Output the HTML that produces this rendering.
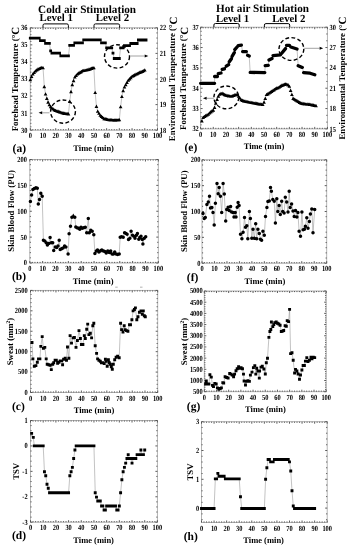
<!DOCTYPE html>
<html><head><meta charset="utf-8"><style>html,body{margin:0;padding:0;background:#fff;overflow:hidden;}svg{display:block;}</style></head>
<body><svg width="354" height="550" viewBox="0 0 354 550" text-rendering="geometricPrecision" font-family="&quot;Liberation Serif&quot;, serif" font-weight="bold"><rect x="30.3" y="27.8" width="127.20" height="102.40" fill="none" stroke="#ababab" stroke-width="0.9"/><text transform="translate(30.30,138.20) scale(0.82,1)" font-size="7.8" text-anchor="middle">0</text><text transform="translate(43.02,138.20) scale(0.82,1)" font-size="7.8" text-anchor="middle">10</text><text transform="translate(55.74,138.20) scale(0.82,1)" font-size="7.8" text-anchor="middle">20</text><text transform="translate(68.46,138.20) scale(0.82,1)" font-size="7.8" text-anchor="middle">30</text><text transform="translate(81.18,138.20) scale(0.82,1)" font-size="7.8" text-anchor="middle">40</text><text transform="translate(93.90,138.20) scale(0.82,1)" font-size="7.8" text-anchor="middle">50</text><text transform="translate(106.62,138.20) scale(0.82,1)" font-size="7.8" text-anchor="middle">60</text><text transform="translate(119.34,138.20) scale(0.82,1)" font-size="7.8" text-anchor="middle">70</text><text transform="translate(132.06,138.20) scale(0.82,1)" font-size="7.8" text-anchor="middle">80</text><text transform="translate(144.78,138.20) scale(0.82,1)" font-size="7.8" text-anchor="middle">90</text><text transform="translate(157.50,138.20) scale(0.82,1)" font-size="7.8" text-anchor="middle">100</text><text transform="translate(27.40,132.60) scale(0.82,1)" font-size="7.8" text-anchor="end">30</text><text transform="translate(27.40,115.53) scale(0.82,1)" font-size="7.8" text-anchor="end">31</text><text transform="translate(27.40,98.47) scale(0.82,1)" font-size="7.8" text-anchor="end">32</text><text transform="translate(27.40,81.40) scale(0.82,1)" font-size="7.8" text-anchor="end">33</text><text transform="translate(27.40,64.33) scale(0.82,1)" font-size="7.8" text-anchor="end">34</text><text transform="translate(27.40,47.27) scale(0.82,1)" font-size="7.8" text-anchor="end">35</text><text transform="translate(27.40,30.20) scale(0.82,1)" font-size="7.8" text-anchor="end">36</text><text transform="translate(159.70,132.80) scale(0.82,1)" font-size="7.8" text-anchor="start">18</text><text transform="translate(159.70,107.20) scale(0.82,1)" font-size="7.8" text-anchor="start">19</text><text transform="translate(159.70,81.60) scale(0.82,1)" font-size="7.8" text-anchor="start">20</text><text transform="translate(159.70,56.00) scale(0.82,1)" font-size="7.8" text-anchor="start">21</text><text transform="translate(159.70,30.40) scale(0.82,1)" font-size="7.8" text-anchor="start">22</text><path d="M30.30 130.2v-2.0M30.30 27.8v2.0M32.84 130.2v-1.1M32.84 27.8v1.1M35.39 130.2v-1.1M35.39 27.8v1.1M37.93 130.2v-1.1M37.93 27.8v1.1M40.48 130.2v-1.1M40.48 27.8v1.1M43.02 130.2v-2.0M43.02 27.8v2.0M45.56 130.2v-1.1M45.56 27.8v1.1M48.11 130.2v-1.1M48.11 27.8v1.1M50.65 130.2v-1.1M50.65 27.8v1.1M53.20 130.2v-1.1M53.20 27.8v1.1M55.74 130.2v-2.0M55.74 27.8v2.0M58.28 130.2v-1.1M58.28 27.8v1.1M60.83 130.2v-1.1M60.83 27.8v1.1M63.37 130.2v-1.1M63.37 27.8v1.1M65.92 130.2v-1.1M65.92 27.8v1.1M68.46 130.2v-2.0M68.46 27.8v2.0M71.00 130.2v-1.1M71.00 27.8v1.1M73.55 130.2v-1.1M73.55 27.8v1.1M76.09 130.2v-1.1M76.09 27.8v1.1M78.64 130.2v-1.1M78.64 27.8v1.1M81.18 130.2v-2.0M81.18 27.8v2.0M83.72 130.2v-1.1M83.72 27.8v1.1M86.27 130.2v-1.1M86.27 27.8v1.1M88.81 130.2v-1.1M88.81 27.8v1.1M91.36 130.2v-1.1M91.36 27.8v1.1M93.90 130.2v-2.0M93.90 27.8v2.0M96.44 130.2v-1.1M96.44 27.8v1.1M98.99 130.2v-1.1M98.99 27.8v1.1M101.53 130.2v-1.1M101.53 27.8v1.1M104.08 130.2v-1.1M104.08 27.8v1.1M106.62 130.2v-2.0M106.62 27.8v2.0M109.16 130.2v-1.1M109.16 27.8v1.1M111.71 130.2v-1.1M111.71 27.8v1.1M114.25 130.2v-1.1M114.25 27.8v1.1M116.80 130.2v-1.1M116.80 27.8v1.1M119.34 130.2v-2.0M119.34 27.8v2.0M121.88 130.2v-1.1M121.88 27.8v1.1M124.43 130.2v-1.1M124.43 27.8v1.1M126.97 130.2v-1.1M126.97 27.8v1.1M129.52 130.2v-1.1M129.52 27.8v1.1M132.06 130.2v-2.0M132.06 27.8v2.0M134.60 130.2v-1.1M134.60 27.8v1.1M137.15 130.2v-1.1M137.15 27.8v1.1M139.69 130.2v-1.1M139.69 27.8v1.1M142.24 130.2v-1.1M142.24 27.8v1.1M144.78 130.2v-2.0M144.78 27.8v2.0M147.32 130.2v-1.1M147.32 27.8v1.1M149.87 130.2v-1.1M149.87 27.8v1.1M152.41 130.2v-1.1M152.41 27.8v1.1M154.96 130.2v-1.1M154.96 27.8v1.1M157.50 130.2v-2.0M157.50 27.8v2.0M30.3 130.20h2.0M30.3 126.79h1.1M30.3 123.37h1.1M30.3 119.96h1.1M30.3 116.55h1.1M30.3 113.13h2.0M30.3 109.72h1.1M30.3 106.31h1.1M30.3 102.89h1.1M30.3 99.48h1.1M30.3 96.07h2.0M30.3 92.65h1.1M30.3 89.24h1.1M30.3 85.83h1.1M30.3 82.41h1.1M30.3 79.00h2.0M30.3 75.59h1.1M30.3 72.17h1.1M30.3 68.76h1.1M30.3 65.35h1.1M30.3 61.93h2.0M30.3 58.52h1.1M30.3 55.11h1.1M30.3 51.69h1.1M30.3 48.28h1.1M30.3 44.87h2.0M30.3 41.45h1.1M30.3 38.04h1.1M30.3 34.63h1.1M30.3 31.21h1.1M30.3 27.80h2.0M157.5 130.20h-2.0M157.5 125.08h-1.1M157.5 119.96h-1.1M157.5 114.84h-1.1M157.5 109.72h-1.1M157.5 104.60h-2.0M157.5 99.48h-1.1M157.5 94.36h-1.1M157.5 89.24h-1.1M157.5 84.12h-1.1M157.5 79.00h-2.0M157.5 73.88h-1.1M157.5 68.76h-1.1M157.5 63.64h-1.1M157.5 58.52h-1.1M157.5 53.40h-2.0M157.5 48.28h-1.1M157.5 43.16h-1.1M157.5 38.04h-1.1M157.5 32.92h-1.1M157.5 27.80h-2.0" stroke="#4a4a4a" stroke-width="0.9" fill="none"/><rect x="29.8" y="159.5" width="128.50" height="103.50" fill="none" stroke="#ababab" stroke-width="0.9"/><text transform="translate(29.80,271.00) scale(0.82,1)" font-size="7.8" text-anchor="middle">0</text><text transform="translate(42.65,271.00) scale(0.82,1)" font-size="7.8" text-anchor="middle">10</text><text transform="translate(55.50,271.00) scale(0.82,1)" font-size="7.8" text-anchor="middle">20</text><text transform="translate(68.35,271.00) scale(0.82,1)" font-size="7.8" text-anchor="middle">30</text><text transform="translate(81.20,271.00) scale(0.82,1)" font-size="7.8" text-anchor="middle">40</text><text transform="translate(94.05,271.00) scale(0.82,1)" font-size="7.8" text-anchor="middle">50</text><text transform="translate(106.90,271.00) scale(0.82,1)" font-size="7.8" text-anchor="middle">60</text><text transform="translate(119.75,271.00) scale(0.82,1)" font-size="7.8" text-anchor="middle">70</text><text transform="translate(132.60,271.00) scale(0.82,1)" font-size="7.8" text-anchor="middle">80</text><text transform="translate(145.45,271.00) scale(0.82,1)" font-size="7.8" text-anchor="middle">90</text><text transform="translate(158.30,271.00) scale(0.82,1)" font-size="7.8" text-anchor="middle">100</text><text transform="translate(26.90,265.40) scale(0.82,1)" font-size="7.8" text-anchor="end">0</text><text transform="translate(26.90,239.53) scale(0.82,1)" font-size="7.8" text-anchor="end">50</text><text transform="translate(26.90,213.65) scale(0.82,1)" font-size="7.8" text-anchor="end">100</text><text transform="translate(26.90,187.78) scale(0.82,1)" font-size="7.8" text-anchor="end">150</text><text transform="translate(26.90,161.90) scale(0.82,1)" font-size="7.8" text-anchor="end">200</text><path d="M29.80 263.0v-2.0M29.80 159.5v2.0M32.37 263.0v-1.1M32.37 159.5v1.1M34.94 263.0v-1.1M34.94 159.5v1.1M37.51 263.0v-1.1M37.51 159.5v1.1M40.08 263.0v-1.1M40.08 159.5v1.1M42.65 263.0v-2.0M42.65 159.5v2.0M45.22 263.0v-1.1M45.22 159.5v1.1M47.79 263.0v-1.1M47.79 159.5v1.1M50.36 263.0v-1.1M50.36 159.5v1.1M52.93 263.0v-1.1M52.93 159.5v1.1M55.50 263.0v-2.0M55.50 159.5v2.0M58.07 263.0v-1.1M58.07 159.5v1.1M60.64 263.0v-1.1M60.64 159.5v1.1M63.21 263.0v-1.1M63.21 159.5v1.1M65.78 263.0v-1.1M65.78 159.5v1.1M68.35 263.0v-2.0M68.35 159.5v2.0M70.92 263.0v-1.1M70.92 159.5v1.1M73.49 263.0v-1.1M73.49 159.5v1.1M76.06 263.0v-1.1M76.06 159.5v1.1M78.63 263.0v-1.1M78.63 159.5v1.1M81.20 263.0v-2.0M81.20 159.5v2.0M83.77 263.0v-1.1M83.77 159.5v1.1M86.34 263.0v-1.1M86.34 159.5v1.1M88.91 263.0v-1.1M88.91 159.5v1.1M91.48 263.0v-1.1M91.48 159.5v1.1M94.05 263.0v-2.0M94.05 159.5v2.0M96.62 263.0v-1.1M96.62 159.5v1.1M99.19 263.0v-1.1M99.19 159.5v1.1M101.76 263.0v-1.1M101.76 159.5v1.1M104.33 263.0v-1.1M104.33 159.5v1.1M106.90 263.0v-2.0M106.90 159.5v2.0M109.47 263.0v-1.1M109.47 159.5v1.1M112.04 263.0v-1.1M112.04 159.5v1.1M114.61 263.0v-1.1M114.61 159.5v1.1M117.18 263.0v-1.1M117.18 159.5v1.1M119.75 263.0v-2.0M119.75 159.5v2.0M122.32 263.0v-1.1M122.32 159.5v1.1M124.89 263.0v-1.1M124.89 159.5v1.1M127.46 263.0v-1.1M127.46 159.5v1.1M130.03 263.0v-1.1M130.03 159.5v1.1M132.60 263.0v-2.0M132.60 159.5v2.0M135.17 263.0v-1.1M135.17 159.5v1.1M137.74 263.0v-1.1M137.74 159.5v1.1M140.31 263.0v-1.1M140.31 159.5v1.1M142.88 263.0v-1.1M142.88 159.5v1.1M145.45 263.0v-2.0M145.45 159.5v2.0M148.02 263.0v-1.1M148.02 159.5v1.1M150.59 263.0v-1.1M150.59 159.5v1.1M153.16 263.0v-1.1M153.16 159.5v1.1M155.73 263.0v-1.1M155.73 159.5v1.1M158.30 263.0v-2.0M158.30 159.5v2.0M29.8 263.00h2.0M158.3 263.00h-2.0M29.8 257.82h1.1M158.3 257.82h-1.1M29.8 252.65h1.1M158.3 252.65h-1.1M29.8 247.47h1.1M158.3 247.47h-1.1M29.8 242.30h1.1M158.3 242.30h-1.1M29.8 237.12h2.0M158.3 237.12h-2.0M29.8 231.95h1.1M158.3 231.95h-1.1M29.8 226.78h1.1M158.3 226.78h-1.1M29.8 221.60h1.1M158.3 221.60h-1.1M29.8 216.43h1.1M158.3 216.43h-1.1M29.8 211.25h2.0M158.3 211.25h-2.0M29.8 206.07h1.1M158.3 206.07h-1.1M29.8 200.90h1.1M158.3 200.90h-1.1M29.8 195.72h1.1M158.3 195.72h-1.1M29.8 190.55h1.1M158.3 190.55h-1.1M29.8 185.38h2.0M158.3 185.38h-2.0M29.8 180.20h1.1M158.3 180.20h-1.1M29.8 175.03h1.1M158.3 175.03h-1.1M29.8 169.85h1.1M158.3 169.85h-1.1M29.8 164.68h1.1M158.3 164.68h-1.1M29.8 159.50h2.0M158.3 159.50h-2.0" stroke="#4a4a4a" stroke-width="0.9" fill="none"/><rect x="30.5" y="290.4" width="127.20" height="102.10" fill="none" stroke="#ababab" stroke-width="0.9"/><text transform="translate(30.50,400.50) scale(0.82,1)" font-size="7.8" text-anchor="middle">0</text><text transform="translate(43.22,400.50) scale(0.82,1)" font-size="7.8" text-anchor="middle">10</text><text transform="translate(55.94,400.50) scale(0.82,1)" font-size="7.8" text-anchor="middle">20</text><text transform="translate(68.66,400.50) scale(0.82,1)" font-size="7.8" text-anchor="middle">30</text><text transform="translate(81.38,400.50) scale(0.82,1)" font-size="7.8" text-anchor="middle">40</text><text transform="translate(94.10,400.50) scale(0.82,1)" font-size="7.8" text-anchor="middle">50</text><text transform="translate(106.82,400.50) scale(0.82,1)" font-size="7.8" text-anchor="middle">60</text><text transform="translate(119.54,400.50) scale(0.82,1)" font-size="7.8" text-anchor="middle">70</text><text transform="translate(132.26,400.50) scale(0.82,1)" font-size="7.8" text-anchor="middle">80</text><text transform="translate(144.98,400.50) scale(0.82,1)" font-size="7.8" text-anchor="middle">90</text><text transform="translate(157.70,400.50) scale(0.82,1)" font-size="7.8" text-anchor="middle">100</text><text transform="translate(27.60,394.90) scale(0.82,1)" font-size="7.8" text-anchor="end">0</text><text transform="translate(27.60,374.48) scale(0.82,1)" font-size="7.8" text-anchor="end">500</text><text transform="translate(27.60,354.06) scale(0.82,1)" font-size="7.8" text-anchor="end">1000</text><text transform="translate(27.60,333.64) scale(0.82,1)" font-size="7.8" text-anchor="end">1500</text><text transform="translate(27.60,313.22) scale(0.82,1)" font-size="7.8" text-anchor="end">2000</text><text transform="translate(27.60,292.80) scale(0.82,1)" font-size="7.8" text-anchor="end">2500</text><path d="M30.50 392.5v-2.0M30.50 290.4v2.0M33.04 392.5v-1.1M33.04 290.4v1.1M35.59 392.5v-1.1M35.59 290.4v1.1M38.13 392.5v-1.1M38.13 290.4v1.1M40.68 392.5v-1.1M40.68 290.4v1.1M43.22 392.5v-2.0M43.22 290.4v2.0M45.76 392.5v-1.1M45.76 290.4v1.1M48.31 392.5v-1.1M48.31 290.4v1.1M50.85 392.5v-1.1M50.85 290.4v1.1M53.40 392.5v-1.1M53.40 290.4v1.1M55.94 392.5v-2.0M55.94 290.4v2.0M58.48 392.5v-1.1M58.48 290.4v1.1M61.03 392.5v-1.1M61.03 290.4v1.1M63.57 392.5v-1.1M63.57 290.4v1.1M66.12 392.5v-1.1M66.12 290.4v1.1M68.66 392.5v-2.0M68.66 290.4v2.0M71.20 392.5v-1.1M71.20 290.4v1.1M73.75 392.5v-1.1M73.75 290.4v1.1M76.29 392.5v-1.1M76.29 290.4v1.1M78.84 392.5v-1.1M78.84 290.4v1.1M81.38 392.5v-2.0M81.38 290.4v2.0M83.92 392.5v-1.1M83.92 290.4v1.1M86.47 392.5v-1.1M86.47 290.4v1.1M89.01 392.5v-1.1M89.01 290.4v1.1M91.56 392.5v-1.1M91.56 290.4v1.1M94.10 392.5v-2.0M94.10 290.4v2.0M96.64 392.5v-1.1M96.64 290.4v1.1M99.19 392.5v-1.1M99.19 290.4v1.1M101.73 392.5v-1.1M101.73 290.4v1.1M104.28 392.5v-1.1M104.28 290.4v1.1M106.82 392.5v-2.0M106.82 290.4v2.0M109.36 392.5v-1.1M109.36 290.4v1.1M111.91 392.5v-1.1M111.91 290.4v1.1M114.45 392.5v-1.1M114.45 290.4v1.1M117.00 392.5v-1.1M117.00 290.4v1.1M119.54 392.5v-2.0M119.54 290.4v2.0M122.08 392.5v-1.1M122.08 290.4v1.1M124.63 392.5v-1.1M124.63 290.4v1.1M127.17 392.5v-1.1M127.17 290.4v1.1M129.72 392.5v-1.1M129.72 290.4v1.1M132.26 392.5v-2.0M132.26 290.4v2.0M134.80 392.5v-1.1M134.80 290.4v1.1M137.35 392.5v-1.1M137.35 290.4v1.1M139.89 392.5v-1.1M139.89 290.4v1.1M142.44 392.5v-1.1M142.44 290.4v1.1M144.98 392.5v-2.0M144.98 290.4v2.0M147.52 392.5v-1.1M147.52 290.4v1.1M150.07 392.5v-1.1M150.07 290.4v1.1M152.61 392.5v-1.1M152.61 290.4v1.1M155.16 392.5v-1.1M155.16 290.4v1.1M157.70 392.5v-2.0M157.70 290.4v2.0M30.5 392.50h2.0M157.7 392.50h-2.0M30.5 388.42h1.1M157.7 388.42h-1.1M30.5 384.33h1.1M157.7 384.33h-1.1M30.5 380.25h1.1M157.7 380.25h-1.1M30.5 376.16h1.1M157.7 376.16h-1.1M30.5 372.08h2.0M157.7 372.08h-2.0M30.5 368.00h1.1M157.7 368.00h-1.1M30.5 363.91h1.1M157.7 363.91h-1.1M30.5 359.83h1.1M157.7 359.83h-1.1M30.5 355.74h1.1M157.7 355.74h-1.1M30.5 351.66h2.0M157.7 351.66h-2.0M30.5 347.58h1.1M157.7 347.58h-1.1M30.5 343.49h1.1M157.7 343.49h-1.1M30.5 339.41h1.1M157.7 339.41h-1.1M30.5 335.32h1.1M157.7 335.32h-1.1M30.5 331.24h2.0M157.7 331.24h-2.0M30.5 327.16h1.1M157.7 327.16h-1.1M30.5 323.07h1.1M157.7 323.07h-1.1M30.5 318.99h1.1M157.7 318.99h-1.1M30.5 314.90h1.1M157.7 314.90h-1.1M30.5 310.82h2.0M157.7 310.82h-2.0M30.5 306.74h1.1M157.7 306.74h-1.1M30.5 302.65h1.1M157.7 302.65h-1.1M30.5 298.57h1.1M157.7 298.57h-1.1M30.5 294.48h1.1M157.7 294.48h-1.1M30.5 290.40h2.0M157.7 290.40h-2.0" stroke="#4a4a4a" stroke-width="0.9" fill="none"/><rect x="30.5" y="420.5" width="126.90" height="101.70" fill="none" stroke="#ababab" stroke-width="0.9"/><text transform="translate(30.50,530.20) scale(0.82,1)" font-size="7.8" text-anchor="middle">0</text><text transform="translate(43.19,530.20) scale(0.82,1)" font-size="7.8" text-anchor="middle">10</text><text transform="translate(55.88,530.20) scale(0.82,1)" font-size="7.8" text-anchor="middle">20</text><text transform="translate(68.57,530.20) scale(0.82,1)" font-size="7.8" text-anchor="middle">30</text><text transform="translate(81.26,530.20) scale(0.82,1)" font-size="7.8" text-anchor="middle">40</text><text transform="translate(93.95,530.20) scale(0.82,1)" font-size="7.8" text-anchor="middle">50</text><text transform="translate(106.64,530.20) scale(0.82,1)" font-size="7.8" text-anchor="middle">60</text><text transform="translate(119.33,530.20) scale(0.82,1)" font-size="7.8" text-anchor="middle">70</text><text transform="translate(132.02,530.20) scale(0.82,1)" font-size="7.8" text-anchor="middle">80</text><text transform="translate(144.71,530.20) scale(0.82,1)" font-size="7.8" text-anchor="middle">90</text><text transform="translate(157.40,530.20) scale(0.82,1)" font-size="7.8" text-anchor="middle">100</text><text transform="translate(27.60,524.60) scale(0.82,1)" font-size="7.8" text-anchor="end">-3</text><text transform="translate(27.60,499.18) scale(0.82,1)" font-size="7.8" text-anchor="end">-2</text><text transform="translate(27.60,473.75) scale(0.82,1)" font-size="7.8" text-anchor="end">-1</text><text transform="translate(27.60,448.32) scale(0.82,1)" font-size="7.8" text-anchor="end">0</text><text transform="translate(27.60,422.90) scale(0.82,1)" font-size="7.8" text-anchor="end">1</text><path d="M30.50 522.2v-2.0M30.50 420.5v2.0M33.04 522.2v-1.1M33.04 420.5v1.1M35.58 522.2v-1.1M35.58 420.5v1.1M38.11 522.2v-1.1M38.11 420.5v1.1M40.65 522.2v-1.1M40.65 420.5v1.1M43.19 522.2v-2.0M43.19 420.5v2.0M45.73 522.2v-1.1M45.73 420.5v1.1M48.27 522.2v-1.1M48.27 420.5v1.1M50.80 522.2v-1.1M50.80 420.5v1.1M53.34 522.2v-1.1M53.34 420.5v1.1M55.88 522.2v-2.0M55.88 420.5v2.0M58.42 522.2v-1.1M58.42 420.5v1.1M60.96 522.2v-1.1M60.96 420.5v1.1M63.49 522.2v-1.1M63.49 420.5v1.1M66.03 522.2v-1.1M66.03 420.5v1.1M68.57 522.2v-2.0M68.57 420.5v2.0M71.11 522.2v-1.1M71.11 420.5v1.1M73.65 522.2v-1.1M73.65 420.5v1.1M76.18 522.2v-1.1M76.18 420.5v1.1M78.72 522.2v-1.1M78.72 420.5v1.1M81.26 522.2v-2.0M81.26 420.5v2.0M83.80 522.2v-1.1M83.80 420.5v1.1M86.34 522.2v-1.1M86.34 420.5v1.1M88.87 522.2v-1.1M88.87 420.5v1.1M91.41 522.2v-1.1M91.41 420.5v1.1M93.95 522.2v-2.0M93.95 420.5v2.0M96.49 522.2v-1.1M96.49 420.5v1.1M99.03 522.2v-1.1M99.03 420.5v1.1M101.56 522.2v-1.1M101.56 420.5v1.1M104.10 522.2v-1.1M104.10 420.5v1.1M106.64 522.2v-2.0M106.64 420.5v2.0M109.18 522.2v-1.1M109.18 420.5v1.1M111.72 522.2v-1.1M111.72 420.5v1.1M114.25 522.2v-1.1M114.25 420.5v1.1M116.79 522.2v-1.1M116.79 420.5v1.1M119.33 522.2v-2.0M119.33 420.5v2.0M121.87 522.2v-1.1M121.87 420.5v1.1M124.41 522.2v-1.1M124.41 420.5v1.1M126.94 522.2v-1.1M126.94 420.5v1.1M129.48 522.2v-1.1M129.48 420.5v1.1M132.02 522.2v-2.0M132.02 420.5v2.0M134.56 522.2v-1.1M134.56 420.5v1.1M137.10 522.2v-1.1M137.10 420.5v1.1M139.63 522.2v-1.1M139.63 420.5v1.1M142.17 522.2v-1.1M142.17 420.5v1.1M144.71 522.2v-2.0M144.71 420.5v2.0M147.25 522.2v-1.1M147.25 420.5v1.1M149.79 522.2v-1.1M149.79 420.5v1.1M152.32 522.2v-1.1M152.32 420.5v1.1M154.86 522.2v-1.1M154.86 420.5v1.1M157.40 522.2v-2.0M157.40 420.5v2.0M30.5 522.20h2.0M157.4 522.20h-2.0M30.5 517.12h1.1M157.4 517.12h-1.1M30.5 512.03h1.1M157.4 512.03h-1.1M30.5 506.95h1.1M157.4 506.95h-1.1M30.5 501.86h1.1M157.4 501.86h-1.1M30.5 496.78h2.0M157.4 496.78h-2.0M30.5 491.69h1.1M157.4 491.69h-1.1M30.5 486.61h1.1M157.4 486.61h-1.1M30.5 481.52h1.1M157.4 481.52h-1.1M30.5 476.44h1.1M157.4 476.44h-1.1M30.5 471.35h2.0M157.4 471.35h-2.0M30.5 466.26h1.1M157.4 466.26h-1.1M30.5 461.18h1.1M157.4 461.18h-1.1M30.5 456.10h1.1M157.4 456.10h-1.1M30.5 451.01h1.1M157.4 451.01h-1.1M30.5 445.93h2.0M157.4 445.93h-2.0M30.5 440.84h1.1M157.4 440.84h-1.1M30.5 435.75h1.1M157.4 435.75h-1.1M30.5 430.67h1.1M157.4 430.67h-1.1M30.5 425.59h1.1M157.4 425.59h-1.1M30.5 420.50h2.0M157.4 420.50h-2.0" stroke="#4a4a4a" stroke-width="0.9" fill="none"/><rect x="200.6" y="27.2" width="126.80" height="101.70" fill="none" stroke="#ababab" stroke-width="0.9"/><text transform="translate(200.60,136.90) scale(0.82,1)" font-size="7.8" text-anchor="middle">0</text><text transform="translate(213.28,136.90) scale(0.82,1)" font-size="7.8" text-anchor="middle">10</text><text transform="translate(225.96,136.90) scale(0.82,1)" font-size="7.8" text-anchor="middle">20</text><text transform="translate(238.64,136.90) scale(0.82,1)" font-size="7.8" text-anchor="middle">30</text><text transform="translate(251.32,136.90) scale(0.82,1)" font-size="7.8" text-anchor="middle">40</text><text transform="translate(264.00,136.90) scale(0.82,1)" font-size="7.8" text-anchor="middle">50</text><text transform="translate(276.68,136.90) scale(0.82,1)" font-size="7.8" text-anchor="middle">60</text><text transform="translate(289.36,136.90) scale(0.82,1)" font-size="7.8" text-anchor="middle">70</text><text transform="translate(302.04,136.90) scale(0.82,1)" font-size="7.8" text-anchor="middle">80</text><text transform="translate(314.72,136.90) scale(0.82,1)" font-size="7.8" text-anchor="middle">90</text><text transform="translate(327.40,136.90) scale(0.82,1)" font-size="7.8" text-anchor="middle">100</text><text transform="translate(198.80,131.30) scale(0.82,1)" font-size="7.8" text-anchor="end">32</text><text transform="translate(198.80,110.96) scale(0.82,1)" font-size="7.8" text-anchor="end">33</text><text transform="translate(198.80,90.62) scale(0.82,1)" font-size="7.8" text-anchor="end">34</text><text transform="translate(198.80,70.28) scale(0.82,1)" font-size="7.8" text-anchor="end">35</text><text transform="translate(198.80,49.94) scale(0.82,1)" font-size="7.8" text-anchor="end">36</text><text transform="translate(198.80,29.60) scale(0.82,1)" font-size="7.8" text-anchor="end">37</text><text transform="translate(329.60,131.50) scale(0.82,1)" font-size="7.8" text-anchor="start">15</text><text transform="translate(329.60,111.16) scale(0.82,1)" font-size="7.8" text-anchor="start">18</text><text transform="translate(329.60,90.82) scale(0.82,1)" font-size="7.8" text-anchor="start">21</text><text transform="translate(329.60,70.48) scale(0.82,1)" font-size="7.8" text-anchor="start">24</text><text transform="translate(329.60,50.14) scale(0.82,1)" font-size="7.8" text-anchor="start">27</text><text transform="translate(329.60,29.80) scale(0.82,1)" font-size="7.8" text-anchor="start">30</text><path d="M200.60 128.9v-2.0M200.60 27.2v2.0M203.14 128.9v-1.1M203.14 27.2v1.1M205.67 128.9v-1.1M205.67 27.2v1.1M208.21 128.9v-1.1M208.21 27.2v1.1M210.74 128.9v-1.1M210.74 27.2v1.1M213.28 128.9v-2.0M213.28 27.2v2.0M215.82 128.9v-1.1M215.82 27.2v1.1M218.35 128.9v-1.1M218.35 27.2v1.1M220.89 128.9v-1.1M220.89 27.2v1.1M223.42 128.9v-1.1M223.42 27.2v1.1M225.96 128.9v-2.0M225.96 27.2v2.0M228.50 128.9v-1.1M228.50 27.2v1.1M231.03 128.9v-1.1M231.03 27.2v1.1M233.57 128.9v-1.1M233.57 27.2v1.1M236.10 128.9v-1.1M236.10 27.2v1.1M238.64 128.9v-2.0M238.64 27.2v2.0M241.18 128.9v-1.1M241.18 27.2v1.1M243.71 128.9v-1.1M243.71 27.2v1.1M246.25 128.9v-1.1M246.25 27.2v1.1M248.78 128.9v-1.1M248.78 27.2v1.1M251.32 128.9v-2.0M251.32 27.2v2.0M253.86 128.9v-1.1M253.86 27.2v1.1M256.39 128.9v-1.1M256.39 27.2v1.1M258.93 128.9v-1.1M258.93 27.2v1.1M261.46 128.9v-1.1M261.46 27.2v1.1M264.00 128.9v-2.0M264.00 27.2v2.0M266.54 128.9v-1.1M266.54 27.2v1.1M269.07 128.9v-1.1M269.07 27.2v1.1M271.61 128.9v-1.1M271.61 27.2v1.1M274.14 128.9v-1.1M274.14 27.2v1.1M276.68 128.9v-2.0M276.68 27.2v2.0M279.22 128.9v-1.1M279.22 27.2v1.1M281.75 128.9v-1.1M281.75 27.2v1.1M284.29 128.9v-1.1M284.29 27.2v1.1M286.82 128.9v-1.1M286.82 27.2v1.1M289.36 128.9v-2.0M289.36 27.2v2.0M291.90 128.9v-1.1M291.90 27.2v1.1M294.43 128.9v-1.1M294.43 27.2v1.1M296.97 128.9v-1.1M296.97 27.2v1.1M299.50 128.9v-1.1M299.50 27.2v1.1M302.04 128.9v-2.0M302.04 27.2v2.0M304.58 128.9v-1.1M304.58 27.2v1.1M307.11 128.9v-1.1M307.11 27.2v1.1M309.65 128.9v-1.1M309.65 27.2v1.1M312.18 128.9v-1.1M312.18 27.2v1.1M314.72 128.9v-2.0M314.72 27.2v2.0M317.26 128.9v-1.1M317.26 27.2v1.1M319.79 128.9v-1.1M319.79 27.2v1.1M322.33 128.9v-1.1M322.33 27.2v1.1M324.86 128.9v-1.1M324.86 27.2v1.1M327.40 128.9v-2.0M327.40 27.2v2.0M200.6 128.90h2.0M200.6 124.83h1.1M200.6 120.76h1.1M200.6 116.70h1.1M200.6 112.63h1.1M200.6 108.56h2.0M200.6 104.49h1.1M200.6 100.42h1.1M200.6 96.36h1.1M200.6 92.29h1.1M200.6 88.22h2.0M200.6 84.15h1.1M200.6 80.08h1.1M200.6 76.02h1.1M200.6 71.95h1.1M200.6 67.88h2.0M200.6 63.81h1.1M200.6 59.74h1.1M200.6 55.68h1.1M200.6 51.61h1.1M200.6 47.54h2.0M200.6 43.47h1.1M200.6 39.40h1.1M200.6 35.34h1.1M200.6 31.27h1.1M200.6 27.20h2.0M327.4 128.90h-2.0M327.4 122.12h-1.1M327.4 115.34h-1.1M327.4 108.56h-2.0M327.4 101.78h-1.1M327.4 95.00h-1.1M327.4 88.22h-2.0M327.4 81.44h-1.1M327.4 74.66h-1.1M327.4 67.88h-2.0M327.4 61.10h-1.1M327.4 54.32h-1.1M327.4 47.54h-2.0M327.4 40.76h-1.1M327.4 33.98h-1.1M327.4 27.20h-2.0" stroke="#4a4a4a" stroke-width="0.9" fill="none"/><rect x="202.0" y="159.8" width="124.70" height="103.40" fill="none" stroke="#ababab" stroke-width="0.9"/><text transform="translate(202.00,271.20) scale(0.82,1)" font-size="7.8" text-anchor="middle">0</text><text transform="translate(214.47,271.20) scale(0.82,1)" font-size="7.8" text-anchor="middle">10</text><text transform="translate(226.94,271.20) scale(0.82,1)" font-size="7.8" text-anchor="middle">20</text><text transform="translate(239.41,271.20) scale(0.82,1)" font-size="7.8" text-anchor="middle">30</text><text transform="translate(251.88,271.20) scale(0.82,1)" font-size="7.8" text-anchor="middle">40</text><text transform="translate(264.35,271.20) scale(0.82,1)" font-size="7.8" text-anchor="middle">50</text><text transform="translate(276.82,271.20) scale(0.82,1)" font-size="7.8" text-anchor="middle">60</text><text transform="translate(289.29,271.20) scale(0.82,1)" font-size="7.8" text-anchor="middle">70</text><text transform="translate(301.76,271.20) scale(0.82,1)" font-size="7.8" text-anchor="middle">80</text><text transform="translate(314.23,271.20) scale(0.82,1)" font-size="7.8" text-anchor="middle">90</text><text transform="translate(326.70,271.20) scale(0.82,1)" font-size="7.8" text-anchor="middle">100</text><text transform="translate(200.40,265.60) scale(0.82,1)" font-size="7.8" text-anchor="end">0</text><text transform="translate(200.40,239.75) scale(0.82,1)" font-size="7.8" text-anchor="end">50</text><text transform="translate(200.40,213.90) scale(0.82,1)" font-size="7.8" text-anchor="end">100</text><text transform="translate(200.40,188.05) scale(0.82,1)" font-size="7.8" text-anchor="end">150</text><text transform="translate(200.40,162.20) scale(0.82,1)" font-size="7.8" text-anchor="end">200</text><path d="M202.00 263.2v-2.0M202.00 159.8v2.0M204.49 263.2v-1.1M204.49 159.8v1.1M206.99 263.2v-1.1M206.99 159.8v1.1M209.48 263.2v-1.1M209.48 159.8v1.1M211.98 263.2v-1.1M211.98 159.8v1.1M214.47 263.2v-2.0M214.47 159.8v2.0M216.96 263.2v-1.1M216.96 159.8v1.1M219.46 263.2v-1.1M219.46 159.8v1.1M221.95 263.2v-1.1M221.95 159.8v1.1M224.45 263.2v-1.1M224.45 159.8v1.1M226.94 263.2v-2.0M226.94 159.8v2.0M229.43 263.2v-1.1M229.43 159.8v1.1M231.93 263.2v-1.1M231.93 159.8v1.1M234.42 263.2v-1.1M234.42 159.8v1.1M236.92 263.2v-1.1M236.92 159.8v1.1M239.41 263.2v-2.0M239.41 159.8v2.0M241.90 263.2v-1.1M241.90 159.8v1.1M244.40 263.2v-1.1M244.40 159.8v1.1M246.89 263.2v-1.1M246.89 159.8v1.1M249.39 263.2v-1.1M249.39 159.8v1.1M251.88 263.2v-2.0M251.88 159.8v2.0M254.37 263.2v-1.1M254.37 159.8v1.1M256.87 263.2v-1.1M256.87 159.8v1.1M259.36 263.2v-1.1M259.36 159.8v1.1M261.86 263.2v-1.1M261.86 159.8v1.1M264.35 263.2v-2.0M264.35 159.8v2.0M266.84 263.2v-1.1M266.84 159.8v1.1M269.34 263.2v-1.1M269.34 159.8v1.1M271.83 263.2v-1.1M271.83 159.8v1.1M274.33 263.2v-1.1M274.33 159.8v1.1M276.82 263.2v-2.0M276.82 159.8v2.0M279.31 263.2v-1.1M279.31 159.8v1.1M281.81 263.2v-1.1M281.81 159.8v1.1M284.30 263.2v-1.1M284.30 159.8v1.1M286.80 263.2v-1.1M286.80 159.8v1.1M289.29 263.2v-2.0M289.29 159.8v2.0M291.78 263.2v-1.1M291.78 159.8v1.1M294.28 263.2v-1.1M294.28 159.8v1.1M296.77 263.2v-1.1M296.77 159.8v1.1M299.27 263.2v-1.1M299.27 159.8v1.1M301.76 263.2v-2.0M301.76 159.8v2.0M304.25 263.2v-1.1M304.25 159.8v1.1M306.75 263.2v-1.1M306.75 159.8v1.1M309.24 263.2v-1.1M309.24 159.8v1.1M311.74 263.2v-1.1M311.74 159.8v1.1M314.23 263.2v-2.0M314.23 159.8v2.0M316.72 263.2v-1.1M316.72 159.8v1.1M319.22 263.2v-1.1M319.22 159.8v1.1M321.71 263.2v-1.1M321.71 159.8v1.1M324.21 263.2v-1.1M324.21 159.8v1.1M326.70 263.2v-2.0M326.70 159.8v2.0M202.0 263.20h2.0M326.7 263.20h-2.0M202.0 258.03h1.1M326.7 258.03h-1.1M202.0 252.86h1.1M326.7 252.86h-1.1M202.0 247.69h1.1M326.7 247.69h-1.1M202.0 242.52h1.1M326.7 242.52h-1.1M202.0 237.35h2.0M326.7 237.35h-2.0M202.0 232.18h1.1M326.7 232.18h-1.1M202.0 227.01h1.1M326.7 227.01h-1.1M202.0 221.84h1.1M326.7 221.84h-1.1M202.0 216.67h1.1M326.7 216.67h-1.1M202.0 211.50h2.0M326.7 211.50h-2.0M202.0 206.33h1.1M326.7 206.33h-1.1M202.0 201.16h1.1M326.7 201.16h-1.1M202.0 195.99h1.1M326.7 195.99h-1.1M202.0 190.82h1.1M326.7 190.82h-1.1M202.0 185.65h2.0M326.7 185.65h-2.0M202.0 180.48h1.1M326.7 180.48h-1.1M202.0 175.31h1.1M326.7 175.31h-1.1M202.0 170.14h1.1M326.7 170.14h-1.1M202.0 164.97h1.1M326.7 164.97h-1.1M202.0 159.80h2.0M326.7 159.80h-2.0" stroke="#4a4a4a" stroke-width="0.9" fill="none"/><rect x="204.3" y="291.0" width="121.90" height="100.70" fill="none" stroke="#ababab" stroke-width="0.9"/><text transform="translate(204.30,399.70) scale(0.82,1)" font-size="7.8" text-anchor="middle">0</text><text transform="translate(216.49,399.70) scale(0.82,1)" font-size="7.8" text-anchor="middle">10</text><text transform="translate(228.68,399.70) scale(0.82,1)" font-size="7.8" text-anchor="middle">20</text><text transform="translate(240.87,399.70) scale(0.82,1)" font-size="7.8" text-anchor="middle">30</text><text transform="translate(253.06,399.70) scale(0.82,1)" font-size="7.8" text-anchor="middle">40</text><text transform="translate(265.25,399.70) scale(0.82,1)" font-size="7.8" text-anchor="middle">50</text><text transform="translate(277.44,399.70) scale(0.82,1)" font-size="7.8" text-anchor="middle">60</text><text transform="translate(289.63,399.70) scale(0.82,1)" font-size="7.8" text-anchor="middle">70</text><text transform="translate(301.82,399.70) scale(0.82,1)" font-size="7.8" text-anchor="middle">80</text><text transform="translate(314.01,399.70) scale(0.82,1)" font-size="7.8" text-anchor="middle">90</text><text transform="translate(326.20,399.70) scale(0.82,1)" font-size="7.8" text-anchor="middle">100</text><text transform="translate(202.70,394.10) scale(0.82,1)" font-size="7.8" text-anchor="end">500</text><text transform="translate(202.70,382.91) scale(0.82,1)" font-size="7.8" text-anchor="end">1000</text><text transform="translate(202.70,371.72) scale(0.82,1)" font-size="7.8" text-anchor="end">1500</text><text transform="translate(202.70,360.53) scale(0.82,1)" font-size="7.8" text-anchor="end">2000</text><text transform="translate(202.70,349.34) scale(0.82,1)" font-size="7.8" text-anchor="end">2500</text><text transform="translate(202.70,338.16) scale(0.82,1)" font-size="7.8" text-anchor="end">3000</text><text transform="translate(202.70,326.97) scale(0.82,1)" font-size="7.8" text-anchor="end">3500</text><text transform="translate(202.70,315.78) scale(0.82,1)" font-size="7.8" text-anchor="end">4000</text><text transform="translate(202.70,304.59) scale(0.82,1)" font-size="7.8" text-anchor="end">4500</text><text transform="translate(202.70,293.40) scale(0.82,1)" font-size="7.8" text-anchor="end">5000</text><path d="M204.30 391.7v-2.0M204.30 291.0v2.0M206.74 391.7v-1.1M206.74 291.0v1.1M209.18 391.7v-1.1M209.18 291.0v1.1M211.61 391.7v-1.1M211.61 291.0v1.1M214.05 391.7v-1.1M214.05 291.0v1.1M216.49 391.7v-2.0M216.49 291.0v2.0M218.93 391.7v-1.1M218.93 291.0v1.1M221.37 391.7v-1.1M221.37 291.0v1.1M223.80 391.7v-1.1M223.80 291.0v1.1M226.24 391.7v-1.1M226.24 291.0v1.1M228.68 391.7v-2.0M228.68 291.0v2.0M231.12 391.7v-1.1M231.12 291.0v1.1M233.56 391.7v-1.1M233.56 291.0v1.1M235.99 391.7v-1.1M235.99 291.0v1.1M238.43 391.7v-1.1M238.43 291.0v1.1M240.87 391.7v-2.0M240.87 291.0v2.0M243.31 391.7v-1.1M243.31 291.0v1.1M245.75 391.7v-1.1M245.75 291.0v1.1M248.18 391.7v-1.1M248.18 291.0v1.1M250.62 391.7v-1.1M250.62 291.0v1.1M253.06 391.7v-2.0M253.06 291.0v2.0M255.50 391.7v-1.1M255.50 291.0v1.1M257.94 391.7v-1.1M257.94 291.0v1.1M260.37 391.7v-1.1M260.37 291.0v1.1M262.81 391.7v-1.1M262.81 291.0v1.1M265.25 391.7v-2.0M265.25 291.0v2.0M267.69 391.7v-1.1M267.69 291.0v1.1M270.13 391.7v-1.1M270.13 291.0v1.1M272.56 391.7v-1.1M272.56 291.0v1.1M275.00 391.7v-1.1M275.00 291.0v1.1M277.44 391.7v-2.0M277.44 291.0v2.0M279.88 391.7v-1.1M279.88 291.0v1.1M282.32 391.7v-1.1M282.32 291.0v1.1M284.75 391.7v-1.1M284.75 291.0v1.1M287.19 391.7v-1.1M287.19 291.0v1.1M289.63 391.7v-2.0M289.63 291.0v2.0M292.07 391.7v-1.1M292.07 291.0v1.1M294.51 391.7v-1.1M294.51 291.0v1.1M296.94 391.7v-1.1M296.94 291.0v1.1M299.38 391.7v-1.1M299.38 291.0v1.1M301.82 391.7v-2.0M301.82 291.0v2.0M304.26 391.7v-1.1M304.26 291.0v1.1M306.70 391.7v-1.1M306.70 291.0v1.1M309.13 391.7v-1.1M309.13 291.0v1.1M311.57 391.7v-1.1M311.57 291.0v1.1M314.01 391.7v-2.0M314.01 291.0v2.0M316.45 391.7v-1.1M316.45 291.0v1.1M318.89 391.7v-1.1M318.89 291.0v1.1M321.32 391.7v-1.1M321.32 291.0v1.1M323.76 391.7v-1.1M323.76 291.0v1.1M326.20 391.7v-2.0M326.20 291.0v2.0M204.3 391.70h2.0M326.2 391.70h-2.0M204.3 389.46h1.1M326.2 389.46h-1.1M204.3 387.22h1.1M326.2 387.22h-1.1M204.3 384.99h1.1M326.2 384.99h-1.1M204.3 382.75h1.1M326.2 382.75h-1.1M204.3 380.51h2.0M326.2 380.51h-2.0M204.3 378.27h1.1M326.2 378.27h-1.1M204.3 376.04h1.1M326.2 376.04h-1.1M204.3 373.80h1.1M326.2 373.80h-1.1M204.3 371.56h1.1M326.2 371.56h-1.1M204.3 369.32h2.0M326.2 369.32h-2.0M204.3 367.08h1.1M326.2 367.08h-1.1M204.3 364.85h1.1M326.2 364.85h-1.1M204.3 362.61h1.1M326.2 362.61h-1.1M204.3 360.37h1.1M326.2 360.37h-1.1M204.3 358.13h2.0M326.2 358.13h-2.0M204.3 355.90h1.1M326.2 355.90h-1.1M204.3 353.66h1.1M326.2 353.66h-1.1M204.3 351.42h1.1M326.2 351.42h-1.1M204.3 349.18h1.1M326.2 349.18h-1.1M204.3 346.94h2.0M326.2 346.94h-2.0M204.3 344.71h1.1M326.2 344.71h-1.1M204.3 342.47h1.1M326.2 342.47h-1.1M204.3 340.23h1.1M326.2 340.23h-1.1M204.3 337.99h1.1M326.2 337.99h-1.1M204.3 335.76h2.0M326.2 335.76h-2.0M204.3 333.52h1.1M326.2 333.52h-1.1M204.3 331.28h1.1M326.2 331.28h-1.1M204.3 329.04h1.1M326.2 329.04h-1.1M204.3 326.80h1.1M326.2 326.80h-1.1M204.3 324.57h2.0M326.2 324.57h-2.0M204.3 322.33h1.1M326.2 322.33h-1.1M204.3 320.09h1.1M326.2 320.09h-1.1M204.3 317.85h1.1M326.2 317.85h-1.1M204.3 315.62h1.1M326.2 315.62h-1.1M204.3 313.38h2.0M326.2 313.38h-2.0M204.3 311.14h1.1M326.2 311.14h-1.1M204.3 308.90h1.1M326.2 308.90h-1.1M204.3 306.66h1.1M326.2 306.66h-1.1M204.3 304.43h1.1M326.2 304.43h-1.1M204.3 302.19h2.0M326.2 302.19h-2.0M204.3 299.95h1.1M326.2 299.95h-1.1M204.3 297.71h1.1M326.2 297.71h-1.1M204.3 295.48h1.1M326.2 295.48h-1.1M204.3 293.24h1.1M326.2 293.24h-1.1M204.3 291.00h2.0M326.2 291.00h-2.0" stroke="#4a4a4a" stroke-width="0.9" fill="none"/><rect x="201.5" y="421.7" width="125.70" height="100.80" fill="none" stroke="#ababab" stroke-width="0.9"/><text transform="translate(201.50,530.50) scale(0.82,1)" font-size="7.8" text-anchor="middle">0</text><text transform="translate(214.07,530.50) scale(0.82,1)" font-size="7.8" text-anchor="middle">10</text><text transform="translate(226.64,530.50) scale(0.82,1)" font-size="7.8" text-anchor="middle">20</text><text transform="translate(239.21,530.50) scale(0.82,1)" font-size="7.8" text-anchor="middle">30</text><text transform="translate(251.78,530.50) scale(0.82,1)" font-size="7.8" text-anchor="middle">40</text><text transform="translate(264.35,530.50) scale(0.82,1)" font-size="7.8" text-anchor="middle">50</text><text transform="translate(276.92,530.50) scale(0.82,1)" font-size="7.8" text-anchor="middle">60</text><text transform="translate(289.49,530.50) scale(0.82,1)" font-size="7.8" text-anchor="middle">70</text><text transform="translate(302.06,530.50) scale(0.82,1)" font-size="7.8" text-anchor="middle">80</text><text transform="translate(314.63,530.50) scale(0.82,1)" font-size="7.8" text-anchor="middle">90</text><text transform="translate(327.20,530.50) scale(0.82,1)" font-size="7.8" text-anchor="middle">100</text><text transform="translate(199.20,510.50) scale(0.82,1)" font-size="7.8" text-anchor="end">0</text><text transform="translate(199.20,481.70) scale(0.82,1)" font-size="7.8" text-anchor="end">1</text><text transform="translate(199.20,452.90) scale(0.82,1)" font-size="7.8" text-anchor="end">2</text><text transform="translate(199.20,424.10) scale(0.82,1)" font-size="7.8" text-anchor="end">3</text><path d="M201.50 522.5v-2.0M201.50 421.7v2.0M204.01 522.5v-1.1M204.01 421.7v1.1M206.53 522.5v-1.1M206.53 421.7v1.1M209.04 522.5v-1.1M209.04 421.7v1.1M211.56 522.5v-1.1M211.56 421.7v1.1M214.07 522.5v-2.0M214.07 421.7v2.0M216.58 522.5v-1.1M216.58 421.7v1.1M219.10 522.5v-1.1M219.10 421.7v1.1M221.61 522.5v-1.1M221.61 421.7v1.1M224.13 522.5v-1.1M224.13 421.7v1.1M226.64 522.5v-2.0M226.64 421.7v2.0M229.15 522.5v-1.1M229.15 421.7v1.1M231.67 522.5v-1.1M231.67 421.7v1.1M234.18 522.5v-1.1M234.18 421.7v1.1M236.70 522.5v-1.1M236.70 421.7v1.1M239.21 522.5v-2.0M239.21 421.7v2.0M241.72 522.5v-1.1M241.72 421.7v1.1M244.24 522.5v-1.1M244.24 421.7v1.1M246.75 522.5v-1.1M246.75 421.7v1.1M249.27 522.5v-1.1M249.27 421.7v1.1M251.78 522.5v-2.0M251.78 421.7v2.0M254.29 522.5v-1.1M254.29 421.7v1.1M256.81 522.5v-1.1M256.81 421.7v1.1M259.32 522.5v-1.1M259.32 421.7v1.1M261.84 522.5v-1.1M261.84 421.7v1.1M264.35 522.5v-2.0M264.35 421.7v2.0M266.86 522.5v-1.1M266.86 421.7v1.1M269.38 522.5v-1.1M269.38 421.7v1.1M271.89 522.5v-1.1M271.89 421.7v1.1M274.41 522.5v-1.1M274.41 421.7v1.1M276.92 522.5v-2.0M276.92 421.7v2.0M279.43 522.5v-1.1M279.43 421.7v1.1M281.95 522.5v-1.1M281.95 421.7v1.1M284.46 522.5v-1.1M284.46 421.7v1.1M286.98 522.5v-1.1M286.98 421.7v1.1M289.49 522.5v-2.0M289.49 421.7v2.0M292.00 522.5v-1.1M292.00 421.7v1.1M294.52 522.5v-1.1M294.52 421.7v1.1M297.03 522.5v-1.1M297.03 421.7v1.1M299.55 522.5v-1.1M299.55 421.7v1.1M302.06 522.5v-2.0M302.06 421.7v2.0M304.57 522.5v-1.1M304.57 421.7v1.1M307.09 522.5v-1.1M307.09 421.7v1.1M309.60 522.5v-1.1M309.60 421.7v1.1M312.12 522.5v-1.1M312.12 421.7v1.1M314.63 522.5v-2.0M314.63 421.7v2.0M317.14 522.5v-1.1M317.14 421.7v1.1M319.66 522.5v-1.1M319.66 421.7v1.1M322.17 522.5v-1.1M322.17 421.7v1.1M324.69 522.5v-1.1M324.69 421.7v1.1M327.20 522.5v-2.0M327.20 421.7v2.0M201.5 519.62h1.1M327.2 519.62h-1.1M201.5 513.86h1.1M327.2 513.86h-1.1M201.5 508.10h2.0M327.2 508.10h-2.0M201.5 502.34h1.1M327.2 502.34h-1.1M201.5 496.58h1.1M327.2 496.58h-1.1M201.5 490.82h1.1M327.2 490.82h-1.1M201.5 485.06h1.1M327.2 485.06h-1.1M201.5 479.30h2.0M327.2 479.30h-2.0M201.5 473.54h1.1M327.2 473.54h-1.1M201.5 467.78h1.1M327.2 467.78h-1.1M201.5 462.02h1.1M327.2 462.02h-1.1M201.5 456.26h1.1M327.2 456.26h-1.1M201.5 450.50h2.0M327.2 450.50h-2.0M201.5 444.74h1.1M327.2 444.74h-1.1M201.5 438.98h1.1M327.2 438.98h-1.1M201.5 433.22h1.1M327.2 433.22h-1.1M201.5 427.46h1.1M327.2 427.46h-1.1M201.5 421.70h2.0M327.2 421.70h-2.0" stroke="#4a4a4a" stroke-width="0.9" fill="none"/><text x="87.10" y="12.50" font-size="11.2" text-anchor="middle" fill="#000">Cold air Stimulation</text><text x="56.20" y="21.00" font-size="10.8" text-anchor="middle" fill="#000">Level 1</text><text x="112.50" y="21.00" font-size="10.8" text-anchor="middle" fill="#000">Level 2</text><text x="262.50" y="12.30" font-size="11.2" text-anchor="middle" fill="#000">Hot air Stimulation</text><text x="232.60" y="21.70" font-size="10.8" text-anchor="middle" fill="#000">Level 1</text><text x="288.80" y="21.70" font-size="10.8" text-anchor="middle" fill="#000">Level 2</text><path d="M43.0 27.8V25.4Q43.0 23.9 44.5 23.9H66.9Q68.4 23.9 68.4 25.4V27.8" fill="none" stroke="#000" stroke-width="1"/><path d="M94.0 27.8V25.4Q94.0 23.9 95.5 23.9H118.1Q119.6 23.9 119.6 25.4V27.8" fill="none" stroke="#000" stroke-width="1"/><path d="M213.9 27.2V25.0Q213.9 23.5 215.4 23.5H237.7Q239.2 23.5 239.2 25.0V27.2" fill="none" stroke="#000" stroke-width="1"/><path d="M264.4 27.2V25.1Q264.4 23.6 265.9 23.6H288.2Q289.7 23.6 289.7 25.1V27.2" fill="none" stroke="#000" stroke-width="1"/><text x="0" y="0" transform="translate(17.70,79.10) rotate(-90)" font-size="8.95" text-anchor="middle" fill="#000">Forehead Temperature (°<tspan font-size="11" dy="1.2">C</tspan></text><text x="0" y="0" transform="translate(175.40,78.80) rotate(-90)" font-size="8.86" text-anchor="middle" fill="#000">Environmental Temperature (°<tspan font-size="11" dy="1.2">C</tspan></text><text x="0" y="0" transform="translate(186.40,78.40) rotate(-90)" font-size="8.82" text-anchor="middle" fill="#000">Forehead Temperature (°<tspan font-size="11" dy="1.2">C</tspan></text><text x="0" y="0" transform="translate(345.20,78.00) rotate(-90)" font-size="8.73" text-anchor="middle" fill="#000">Environmental Temperature (°<tspan font-size="11" dy="1.2">C</tspan></text><text x="0" y="0" transform="translate(14.20,210.90) rotate(-90)" font-size="8.78" text-anchor="middle" fill="#000">Skin Blood Flow (PU)</text><text x="0" y="0" transform="translate(186.90,211.20) rotate(-90)" font-size="8.78" text-anchor="middle" fill="#000">Skin Blood Flow (PU)</text><text x="0" y="0" transform="translate(12.90,341.50) rotate(-90)" font-size="8.7" text-anchor="middle" fill="#000">Sweat (mm<tspan font-size="5.6" dy="-3">2</tspan><tspan dy="3">)</tspan></text><text x="0" y="0" transform="translate(187.10,341.60) rotate(-90)" font-size="8.7" text-anchor="middle" fill="#000">Sweat (mm<tspan font-size="5.6" dy="-3">2</tspan><tspan dy="3">)</tspan></text><text x="0" y="0" transform="translate(19.30,471.40) rotate(-90)" font-size="8.7" text-anchor="middle" fill="#000">TSV</text><text x="0" y="0" transform="translate(192.90,472.00) rotate(-90)" font-size="8.7" text-anchor="middle" fill="#000">TSV</text><text x="93.60" y="150.50" font-size="8.5" text-anchor="middle" fill="#000">Time (min)</text><text x="264.00" y="149.40" font-size="8.5" text-anchor="middle" fill="#000">Time (min)</text><text x="93.20" y="283.50" font-size="8.5" text-anchor="middle" fill="#000">Time (min)</text><text x="264.90" y="283.90" font-size="8.5" text-anchor="middle" fill="#000">Time (min)</text><text x="94.00" y="413.10" font-size="8.5" text-anchor="middle" fill="#000">Time (min)</text><text x="265.40" y="411.60" font-size="8.5" text-anchor="middle" fill="#000">Time (min)</text><text x="93.60" y="543.10" font-size="8.5" text-anchor="middle" fill="#000">Time (min)</text><text x="263.60" y="542.70" font-size="8.5" text-anchor="middle" fill="#000">Time (min)</text><text x="12.60" y="151.65" font-size="11.5" text-anchor="start" fill="#000">(a)</text><text x="184.50" y="150.85" font-size="11.5" text-anchor="start" fill="#000">(e)</text><text x="12.00" y="280.45" font-size="11.5" text-anchor="start" fill="#000">(b)</text><text x="186.80" y="281.25" font-size="11.5" text-anchor="start" fill="#000">(f)</text><text x="12.00" y="409.55" font-size="11.5" text-anchor="start" fill="#000">(c)</text><text x="186.80" y="410.45" font-size="11.5" text-anchor="start" fill="#000">(g)</text><text x="12.00" y="538.85" font-size="11.5" text-anchor="start" fill="#000">(d)</text><text x="183.70" y="539.65" font-size="11.5" text-anchor="start" fill="#000">(h)</text><polyline points="30.30,38.10 31.57,38.10 32.84,38.10 34.12,38.10 35.39,38.10 36.66,38.10 37.93,38.10 39.20,38.10 40.48,40.70 41.75,40.70 43.02,40.70 44.29,40.70 45.56,43.30 46.84,43.30 48.11,43.30 49.38,43.30 50.65,50.90 51.92,53.20 53.20,53.20 54.47,53.20 55.74,53.20 57.01,53.20 58.28,53.20 59.56,53.20 60.83,55.90 62.10,55.90 63.37,55.90 64.64,55.90 65.92,55.90 67.19,55.90 68.46,55.90 69.73,45.40 71.00,45.40 72.28,45.40 73.55,45.40 74.82,42.80 76.09,42.80 77.36,42.80 78.64,42.80 79.91,42.80 81.18,42.80 82.45,42.80 83.72,39.80 85.00,39.80 86.27,39.80 87.54,39.80 88.81,39.80 90.08,39.80 91.36,39.80 92.63,39.80 93.90,39.80 95.17,39.80 96.44,39.80 97.72,39.80 98.99,39.80 100.26,39.80 101.53,42.80 102.80,42.80 104.08,42.80 105.35,42.80 106.62,47.80 107.89,47.80 109.16,47.80 110.44,47.80 111.71,47.80 112.98,53.10 114.25,58.50 115.52,58.50 116.80,58.50 118.07,58.50 119.34,58.50 120.61,47.90 121.88,47.90 123.16,47.90 124.43,45.70 125.70,45.70 126.97,45.70 128.24,45.70 129.52,45.70 130.79,43.50 132.06,43.50 133.33,43.50 134.60,43.50 135.88,43.50 137.15,43.50 138.42,40.00 139.69,40.00 140.96,40.00 142.24,40.00 143.51,40.00 144.78,40.00 146.05,40.00" fill="none" stroke="#9a9a9a" stroke-width="0.6"/><path d="M28.90 36.70h2.8v2.8h-2.8zM30.17 36.70h2.8v2.8h-2.8zM31.44 36.70h2.8v2.8h-2.8zM32.72 36.70h2.8v2.8h-2.8zM33.99 36.70h2.8v2.8h-2.8zM35.26 36.70h2.8v2.8h-2.8zM36.53 36.70h2.8v2.8h-2.8zM37.80 36.70h2.8v2.8h-2.8zM39.08 39.30h2.8v2.8h-2.8zM40.35 39.30h2.8v2.8h-2.8zM41.62 39.30h2.8v2.8h-2.8zM42.89 39.30h2.8v2.8h-2.8zM44.16 41.90h2.8v2.8h-2.8zM45.44 41.90h2.8v2.8h-2.8zM46.71 41.90h2.8v2.8h-2.8zM47.98 41.90h2.8v2.8h-2.8zM49.25 49.50h2.8v2.8h-2.8zM50.52 51.80h2.8v2.8h-2.8zM51.80 51.80h2.8v2.8h-2.8zM53.07 51.80h2.8v2.8h-2.8zM54.34 51.80h2.8v2.8h-2.8zM55.61 51.80h2.8v2.8h-2.8zM56.88 51.80h2.8v2.8h-2.8zM58.16 51.80h2.8v2.8h-2.8zM59.43 54.50h2.8v2.8h-2.8zM60.70 54.50h2.8v2.8h-2.8zM61.97 54.50h2.8v2.8h-2.8zM63.24 54.50h2.8v2.8h-2.8zM64.52 54.50h2.8v2.8h-2.8zM65.79 54.50h2.8v2.8h-2.8zM67.06 54.50h2.8v2.8h-2.8zM68.33 44.00h2.8v2.8h-2.8zM69.60 44.00h2.8v2.8h-2.8zM70.88 44.00h2.8v2.8h-2.8zM72.15 44.00h2.8v2.8h-2.8zM73.42 41.40h2.8v2.8h-2.8zM74.69 41.40h2.8v2.8h-2.8zM75.96 41.40h2.8v2.8h-2.8zM77.24 41.40h2.8v2.8h-2.8zM78.51 41.40h2.8v2.8h-2.8zM79.78 41.40h2.8v2.8h-2.8zM81.05 41.40h2.8v2.8h-2.8zM82.32 38.40h2.8v2.8h-2.8zM83.60 38.40h2.8v2.8h-2.8zM84.87 38.40h2.8v2.8h-2.8zM86.14 38.40h2.8v2.8h-2.8zM87.41 38.40h2.8v2.8h-2.8zM88.68 38.40h2.8v2.8h-2.8zM89.96 38.40h2.8v2.8h-2.8zM91.23 38.40h2.8v2.8h-2.8zM92.50 38.40h2.8v2.8h-2.8zM93.77 38.40h2.8v2.8h-2.8zM95.04 38.40h2.8v2.8h-2.8zM96.32 38.40h2.8v2.8h-2.8zM97.59 38.40h2.8v2.8h-2.8zM98.86 38.40h2.8v2.8h-2.8zM100.13 41.40h2.8v2.8h-2.8zM101.40 41.40h2.8v2.8h-2.8zM102.68 41.40h2.8v2.8h-2.8zM103.95 41.40h2.8v2.8h-2.8zM105.22 46.40h2.8v2.8h-2.8zM106.49 46.40h2.8v2.8h-2.8zM107.76 46.40h2.8v2.8h-2.8zM109.04 46.40h2.8v2.8h-2.8zM110.31 46.40h2.8v2.8h-2.8zM111.58 51.70h2.8v2.8h-2.8zM112.85 57.10h2.8v2.8h-2.8zM114.12 57.10h2.8v2.8h-2.8zM115.40 57.10h2.8v2.8h-2.8zM116.67 57.10h2.8v2.8h-2.8zM117.94 57.10h2.8v2.8h-2.8zM119.21 46.50h2.8v2.8h-2.8zM120.48 46.50h2.8v2.8h-2.8zM121.76 46.50h2.8v2.8h-2.8zM123.03 44.30h2.8v2.8h-2.8zM124.30 44.30h2.8v2.8h-2.8zM125.57 44.30h2.8v2.8h-2.8zM126.84 44.30h2.8v2.8h-2.8zM128.12 44.30h2.8v2.8h-2.8zM129.39 42.10h2.8v2.8h-2.8zM130.66 42.10h2.8v2.8h-2.8zM131.93 42.10h2.8v2.8h-2.8zM133.20 42.10h2.8v2.8h-2.8zM134.48 42.10h2.8v2.8h-2.8zM135.75 42.10h2.8v2.8h-2.8zM137.02 38.60h2.8v2.8h-2.8zM138.29 38.60h2.8v2.8h-2.8zM139.56 38.60h2.8v2.8h-2.8zM140.84 38.60h2.8v2.8h-2.8zM142.11 38.60h2.8v2.8h-2.8zM143.38 38.60h2.8v2.8h-2.8zM144.65 38.60h2.8v2.8h-2.8z" fill="#000"/><polyline points="30.30,79.70 31.57,76.50 32.84,74.00 34.12,72.50 35.39,71.00 36.66,70.00 37.93,69.20 39.20,68.50 40.48,68.00 41.75,67.60 43.02,67.80 44.29,86.60 45.56,94.00 46.84,98.40 48.11,102.20 49.38,104.80 50.65,106.60 51.92,108.00 53.20,109.00 54.47,110.00 55.74,110.50 57.01,111.00 58.28,111.45 59.56,111.90 60.83,112.33 62.10,112.77 63.37,113.20 64.64,113.38 65.92,113.55 67.19,113.73 68.46,113.90 69.73,101.40 71.00,91.60 72.28,84.60 73.55,80.70 74.82,77.00 76.09,75.50 77.36,74.00 78.64,73.20 79.91,72.40 81.18,71.60 82.45,70.80 83.72,70.55 85.00,70.30 86.27,70.05 87.54,69.80 88.81,69.35 90.08,68.90 91.36,68.45 92.63,68.00 93.90,67.80 95.17,92.50 96.44,106.40 97.72,111.30 98.99,113.30 100.26,115.30 101.53,116.40 102.80,117.50 104.08,118.60 105.35,118.90 106.62,119.20 107.89,119.50 109.16,119.80 110.44,119.88 111.71,119.96 112.98,120.04 114.25,120.12 115.52,120.20 116.80,120.07 118.07,119.93 119.34,119.80 120.61,106.80 121.88,96.50 123.16,90.60 124.43,87.00 125.70,84.60 126.97,82.45 128.24,80.30 129.52,78.97 130.79,77.63 132.06,76.30 133.33,75.64 134.60,74.98 135.88,74.32 137.15,73.66 138.42,73.00 139.69,72.45 140.96,71.90 142.24,71.35 143.51,70.80 144.78,70.00" fill="none" stroke="#9a9a9a" stroke-width="0.6"/><path d="M30.30 77.83L32.17 81.23L28.43 81.23zM31.57 74.63L33.44 78.03L29.70 78.03zM32.84 72.13L34.71 75.53L30.97 75.53zM34.12 70.63L35.99 74.03L32.25 74.03zM35.39 69.13L37.26 72.53L33.52 72.53zM36.66 68.13L38.53 71.53L34.79 71.53zM37.93 67.33L39.80 70.73L36.06 70.73zM39.20 66.63L41.07 70.03L37.33 70.03zM40.48 66.13L42.35 69.53L38.61 69.53zM41.75 65.73L43.62 69.13L39.88 69.13zM43.02 65.93L44.89 69.33L41.15 69.33zM44.29 84.73L46.16 88.13L42.42 88.13zM45.56 92.13L47.43 95.53L43.69 95.53zM46.84 96.53L48.71 99.93L44.97 99.93zM48.11 100.33L49.98 103.73L46.24 103.73zM49.38 102.93L51.25 106.33L47.51 106.33zM50.65 104.73L52.52 108.13L48.78 108.13zM51.92 106.13L53.79 109.53L50.05 109.53zM53.20 107.13L55.07 110.53L51.33 110.53zM54.47 108.13L56.34 111.53L52.60 111.53zM55.74 108.63L57.61 112.03L53.87 112.03zM57.01 109.13L58.88 112.53L55.14 112.53zM58.28 109.58L60.15 112.98L56.41 112.98zM59.56 110.03L61.43 113.43L57.69 113.43zM60.83 110.46L62.70 113.86L58.96 113.86zM62.10 110.90L63.97 114.30L60.23 114.30zM63.37 111.33L65.24 114.73L61.50 114.73zM64.64 111.50L66.51 114.91L62.77 114.91zM65.92 111.68L67.79 115.08L64.05 115.08zM67.19 111.86L69.06 115.26L65.32 115.26zM68.46 112.03L70.33 115.43L66.59 115.43zM69.73 99.53L71.60 102.93L67.86 102.93zM71.00 89.73L72.87 93.13L69.13 93.13zM72.28 82.73L74.15 86.13L70.41 86.13zM73.55 78.83L75.42 82.23L71.68 82.23zM74.82 75.13L76.69 78.53L72.95 78.53zM76.09 73.63L77.96 77.03L74.22 77.03zM77.36 72.13L79.23 75.53L75.49 75.53zM78.64 71.33L80.51 74.73L76.77 74.73zM79.91 70.53L81.78 73.93L78.04 73.93zM81.18 69.73L83.05 73.13L79.31 73.13zM82.45 68.93L84.32 72.33L80.58 72.33zM83.72 68.68L85.59 72.08L81.85 72.08zM85.00 68.43L86.87 71.83L83.13 71.83zM86.27 68.18L88.14 71.58L84.40 71.58zM87.54 67.93L89.41 71.33L85.67 71.33zM88.81 67.48L90.68 70.88L86.94 70.88zM90.08 67.03L91.95 70.43L88.21 70.43zM91.36 66.58L93.23 69.98L89.49 69.98zM92.63 66.13L94.50 69.53L90.76 69.53zM93.90 65.93L95.77 69.33L92.03 69.33zM95.17 90.63L97.04 94.03L93.30 94.03zM96.44 104.53L98.31 107.93L94.57 107.93zM97.72 109.43L99.59 112.83L95.85 112.83zM98.99 111.43L100.86 114.83L97.12 114.83zM100.26 113.43L102.13 116.83L98.39 116.83zM101.53 114.53L103.40 117.93L99.66 117.93zM102.80 115.63L104.67 119.03L100.93 119.03zM104.08 116.73L105.95 120.13L102.21 120.13zM105.35 117.03L107.22 120.43L103.48 120.43zM106.62 117.33L108.49 120.73L104.75 120.73zM107.89 117.63L109.76 121.03L106.02 121.03zM109.16 117.93L111.03 121.33L107.29 121.33zM110.44 118.01L112.31 121.41L108.57 121.41zM111.71 118.09L113.58 121.49L109.84 121.49zM112.98 118.17L114.85 121.57L111.11 121.57zM114.25 118.25L116.12 121.65L112.38 121.65zM115.52 118.33L117.39 121.73L113.65 121.73zM116.80 118.20L118.67 121.60L114.93 121.60zM118.07 118.06L119.94 121.46L116.20 121.46zM119.34 117.93L121.21 121.33L117.47 121.33zM120.61 104.93L122.48 108.33L118.74 108.33zM121.88 94.63L123.75 98.03L120.01 98.03zM123.16 88.73L125.03 92.13L121.29 92.13zM124.43 85.13L126.30 88.53L122.56 88.53zM125.70 82.73L127.57 86.13L123.83 86.13zM126.97 80.58L128.84 83.98L125.10 83.98zM128.24 78.43L130.11 81.83L126.37 81.83zM129.52 77.10L131.39 80.50L127.65 80.50zM130.79 75.76L132.66 79.16L128.92 79.16zM132.06 74.43L133.93 77.83L130.19 77.83zM133.33 73.77L135.20 77.17L131.46 77.17zM134.60 73.11L136.47 76.51L132.73 76.51zM135.88 72.45L137.75 75.85L134.01 75.85zM137.15 71.79L139.02 75.19L135.28 75.19zM138.42 71.13L140.29 74.53L136.55 74.53zM139.69 70.58L141.56 73.98L137.82 73.98zM140.96 70.03L142.83 73.43L139.09 73.43zM142.24 69.48L144.11 72.88L140.37 72.88zM143.51 68.93L145.38 72.33L141.64 72.33zM144.78 68.13L146.65 71.53L142.91 71.53z" fill="#000"/><polyline points="200.60,83.30 214.60,83.30 214.60,76.50 217.40,76.50 218.30,73.60 221.00,73.00 222.20,69.40 224.40,68.80 226.30,66.20 228.60,64.60 229.30,61.80 231.40,58.80 232.10,56.30 234.30,52.70 234.80,49.60 237.50,46.50 238.20,45.60 241.40,45.20 242.60,51.60 246.40,51.60 247.60,55.30 249.20,56.00 250.20,72.40 264.80,72.60 265.20,65.60 268.30,65.40 269.00,60.00 272.00,58.50 273.00,55.60 280.50,54.80 281.50,53.50 285.50,48.60 286.50,45.30 289.50,45.30 290.80,47.00 297.00,49.00 298.20,65.70 302.30,67.40 303.60,72.60 310.00,73.20 310.00,73.20 314.80,74.80" fill="none" stroke="#9a9a9a" stroke-width="0.6"/><path d="M200.60 83.30L214.60 83.30M214.60 76.50L217.40 76.50M218.30 73.60L221.00 73.00M222.20 69.40L224.40 68.80M226.30 66.20L228.60 64.60M229.30 61.80L231.40 58.80M232.10 56.30L234.30 52.70M234.80 49.60L237.50 46.50M238.20 45.60L241.40 45.20M242.60 51.60L246.40 51.60M247.60 55.30L249.20 56.00M250.20 72.40L264.80 72.60M265.20 65.60L268.30 65.40M269.00 60.00L272.00 58.50M273.00 55.60L280.50 54.80M281.50 53.50L285.50 48.60M286.50 45.30L289.50 45.30M290.80 47.00L297.00 49.00M298.20 65.70L302.30 67.40M303.60 72.60L310.00 73.20M310.00 73.20L314.80 74.80" stroke="#000" stroke-width="3.3" stroke-linecap="round" fill="none"/><polyline points="201.87,120.90 203.14,117.41 204.40,116.56 205.67,115.72 206.94,115.03 208.21,114.29 209.48,113.02 210.74,111.94 212.01,110.99 213.28,110.10 214.55,107.41 215.82,103.23 217.08,99.48 218.35,96.18 219.62,94.31 220.89,93.53 222.16,93.28 223.42,93.96 224.69,94.64 225.96,95.12 227.23,95.54 228.50,95.88 229.76,96.09 231.03,96.29 232.30,95.97 233.57,95.52 234.84,94.88 236.10,94.58 237.37,94.83 238.64,96.29 239.91,98.06 241.18,99.79 242.44,100.42 243.71,100.88 244.98,101.19 246.25,101.51 247.52,101.80 248.78,102.06 250.05,102.31 251.32,102.56 252.59,102.80 253.86,103.01 255.12,103.22 256.39,103.43 257.66,103.64 258.93,103.87 260.20,104.10 261.46,104.32 262.73,104.55 264.00,102.15 265.27,98.39 266.54,94.53 267.80,93.90 269.07,93.05 270.34,92.20 271.61,91.44 272.88,90.59 274.14,89.70 275.41,88.81 276.68,88.20 277.95,87.82 279.22,87.01 280.48,86.21 281.75,85.45 283.02,84.89 284.29,84.41 285.56,84.03 286.82,84.31 288.09,84.99 289.36,86.26 290.63,90.35 291.90,94.55 293.16,98.41 294.43,99.30 295.70,100.05 296.97,100.68 298.24,101.52 299.50,102.37 300.77,102.96 302.04,103.38 303.31,103.74 304.58,103.90 305.84,104.06 307.11,104.21 308.38,104.34 309.65,104.46 310.92,104.59 312.18,104.90 313.45,105.21 314.72,105.53 315.99,105.60" fill="none" stroke="#9a9a9a" stroke-width="0.6"/><path d="M201.87 119.03L203.74 122.43L200.00 122.43zM203.14 115.54L205.01 118.94L201.27 118.94zM204.40 114.69L206.27 118.09L202.53 118.09zM205.67 113.85L207.54 117.25L203.80 117.25zM206.94 113.16L208.81 116.56L205.07 116.56zM208.21 112.42L210.08 115.82L206.34 115.82zM209.48 111.15L211.35 114.55L207.61 114.55zM210.74 110.07L212.61 113.47L208.87 113.47zM212.01 109.12L213.88 112.52L210.14 112.52zM213.28 108.23L215.15 111.63L211.41 111.63zM214.55 105.54L216.42 108.94L212.68 108.94zM215.82 101.36L217.69 104.76L213.95 104.76zM217.08 97.61L218.95 101.01L215.21 101.01zM218.35 94.31L220.22 97.71L216.48 97.71zM219.62 92.44L221.49 95.84L217.75 95.84zM220.89 91.66L222.76 95.06L219.02 95.06zM222.16 91.41L224.03 94.81L220.29 94.81zM223.42 92.09L225.29 95.49L221.55 95.49zM224.69 92.77L226.56 96.17L222.82 96.17zM225.96 93.25L227.83 96.65L224.09 96.65zM227.23 93.67L229.10 97.07L225.36 97.07zM228.50 94.01L230.37 97.41L226.63 97.41zM229.76 94.22L231.63 97.62L227.89 97.62zM231.03 94.42L232.90 97.82L229.16 97.82zM232.30 94.10L234.17 97.50L230.43 97.50zM233.57 93.65L235.44 97.05L231.70 97.05zM234.84 93.01L236.71 96.41L232.97 96.41zM236.10 92.71L237.97 96.11L234.23 96.11zM237.37 92.96L239.24 96.36L235.50 96.36zM238.64 94.42L240.51 97.82L236.77 97.82zM239.91 96.19L241.78 99.59L238.04 99.59zM241.18 97.92L243.05 101.32L239.31 101.32zM242.44 98.55L244.31 101.95L240.57 101.95zM243.71 99.01L245.58 102.41L241.84 102.41zM244.98 99.32L246.85 102.72L243.11 102.72zM246.25 99.64L248.12 103.04L244.38 103.04zM247.52 99.93L249.39 103.33L245.65 103.33zM248.78 100.19L250.65 103.59L246.91 103.59zM250.05 100.44L251.92 103.84L248.18 103.84zM251.32 100.69L253.19 104.09L249.45 104.09zM252.59 100.93L254.46 104.33L250.72 104.33zM253.86 101.14L255.73 104.54L251.99 104.54zM255.12 101.35L256.99 104.75L253.25 104.75zM256.39 101.56L258.26 104.96L254.52 104.96zM257.66 101.77L259.53 105.17L255.79 105.17zM258.93 102.00L260.80 105.40L257.06 105.40zM260.20 102.23L262.07 105.63L258.33 105.63zM261.46 102.45L263.33 105.85L259.59 105.85zM262.73 102.68L264.60 106.08L260.86 106.08zM264.00 100.28L265.87 103.68L262.13 103.68zM265.27 96.52L267.14 99.92L263.40 99.92zM266.54 92.66L268.41 96.06L264.67 96.06zM267.80 92.03L269.67 95.43L265.93 95.43zM269.07 91.18L270.94 94.58L267.20 94.58zM270.34 90.33L272.21 93.73L268.47 93.73zM271.61 89.57L273.48 92.97L269.74 92.97zM272.88 88.72L274.75 92.12L271.01 92.12zM274.14 87.83L276.01 91.23L272.27 91.23zM275.41 86.94L277.28 90.34L273.54 90.34zM276.68 86.33L278.55 89.73L274.81 89.73zM277.95 85.95L279.82 89.35L276.08 89.35zM279.22 85.14L281.09 88.54L277.35 88.54zM280.48 84.34L282.35 87.74L278.61 87.74zM281.75 83.58L283.62 86.98L279.88 86.98zM283.02 83.02L284.89 86.42L281.15 86.42zM284.29 82.54L286.16 85.94L282.42 85.94zM285.56 82.16L287.43 85.56L283.69 85.56zM286.82 82.44L288.69 85.84L284.95 85.84zM288.09 83.12L289.96 86.52L286.22 86.52zM289.36 84.39L291.23 87.79L287.49 87.79zM290.63 88.48L292.50 91.88L288.76 91.88zM291.90 92.68L293.77 96.08L290.03 96.08zM293.16 96.54L295.03 99.94L291.29 99.94zM294.43 97.43L296.30 100.83L292.56 100.83zM295.70 98.18L297.57 101.58L293.83 101.58zM296.97 98.81L298.84 102.21L295.10 102.21zM298.24 99.65L300.11 103.05L296.37 103.05zM299.50 100.50L301.37 103.90L297.63 103.90zM300.77 101.09L302.64 104.49L298.90 104.49zM302.04 101.51L303.91 104.91L300.17 104.91zM303.31 101.87L305.18 105.27L301.44 105.27zM304.58 102.03L306.45 105.43L302.71 105.43zM305.84 102.19L307.71 105.59L303.97 105.59zM307.11 102.34L308.98 105.74L305.24 105.74zM308.38 102.47L310.25 105.87L306.51 105.87zM309.65 102.59L311.52 105.99L307.78 105.99zM310.92 102.72L312.79 106.12L309.05 106.12zM312.18 103.03L314.05 106.43L310.31 106.43zM313.45 103.34L315.32 106.74L311.58 106.74zM314.72 103.66L316.59 107.06L312.85 107.06zM315.99 103.73L317.86 107.13L314.12 107.13z" fill="#000"/><polyline points="30.40,201.60 31.60,195.10 32.90,189.40 34.50,188.40 35.90,187.80 37.30,188.20 38.30,204.00 39.50,199.60 40.80,193.30 42.20,196.30 43.40,240.20 44.80,241.10 46.20,242.70 47.40,245.10 48.80,243.50 50.10,237.60 51.30,242.70 52.70,242.70 53.70,250.60 55.30,247.10 56.70,247.50 58.00,246.10 59.20,240.20 60.20,249.60 61.60,248.70 63.00,248.10 64.60,246.10 65.90,247.10 68.10,254.00 69.10,233.80 70.50,226.30 71.90,217.20 73.30,216.00 74.80,217.20 75.80,226.90 77.00,227.70 78.40,228.30 79.80,229.30 81.00,227.30 82.30,228.30 83.70,227.70 85.30,227.30 86.70,232.80 88.30,218.40 89.30,232.80 90.80,230.30 92.20,231.30 93.80,234.80 94.90,253.40 96.30,251.00 97.50,250.00 98.90,252.00 100.30,251.00 101.80,250.00 103.40,251.00 104.80,251.40 106.20,253.00 107.80,251.00 109.30,252.60 110.70,251.00 112.10,254.00 113.30,254.00 114.70,252.00 116.10,254.00 117.60,254.60 119.20,254.00 120.20,237.20 121.60,236.80 123.20,237.20 124.60,232.80 126.00,233.60 127.10,234.20 128.50,239.60 129.90,238.20 131.10,231.30 132.50,235.20 133.80,236.20 135.00,238.20 136.40,235.20 137.40,233.60 138.80,239.20 139.80,237.60 141.00,236.20 142.30,239.60 142.90,244.10 144.30,238.20 145.70,236.80" fill="none" stroke="#9a9a9a" stroke-width="0.6"/><path d="M28.65 201.60a1.75 1.75 0 1 0 3.5 0a1.75 1.75 0 1 0 -3.5 0zM29.85 195.10a1.75 1.75 0 1 0 3.5 0a1.75 1.75 0 1 0 -3.5 0zM31.15 189.40a1.75 1.75 0 1 0 3.5 0a1.75 1.75 0 1 0 -3.5 0zM32.75 188.40a1.75 1.75 0 1 0 3.5 0a1.75 1.75 0 1 0 -3.5 0zM34.15 187.80a1.75 1.75 0 1 0 3.5 0a1.75 1.75 0 1 0 -3.5 0zM35.55 188.20a1.75 1.75 0 1 0 3.5 0a1.75 1.75 0 1 0 -3.5 0zM36.55 204.00a1.75 1.75 0 1 0 3.5 0a1.75 1.75 0 1 0 -3.5 0zM37.75 199.60a1.75 1.75 0 1 0 3.5 0a1.75 1.75 0 1 0 -3.5 0zM39.05 193.30a1.75 1.75 0 1 0 3.5 0a1.75 1.75 0 1 0 -3.5 0zM40.45 196.30a1.75 1.75 0 1 0 3.5 0a1.75 1.75 0 1 0 -3.5 0zM41.65 240.20a1.75 1.75 0 1 0 3.5 0a1.75 1.75 0 1 0 -3.5 0zM43.05 241.10a1.75 1.75 0 1 0 3.5 0a1.75 1.75 0 1 0 -3.5 0zM44.45 242.70a1.75 1.75 0 1 0 3.5 0a1.75 1.75 0 1 0 -3.5 0zM45.65 245.10a1.75 1.75 0 1 0 3.5 0a1.75 1.75 0 1 0 -3.5 0zM47.05 243.50a1.75 1.75 0 1 0 3.5 0a1.75 1.75 0 1 0 -3.5 0zM48.35 237.60a1.75 1.75 0 1 0 3.5 0a1.75 1.75 0 1 0 -3.5 0zM49.55 242.70a1.75 1.75 0 1 0 3.5 0a1.75 1.75 0 1 0 -3.5 0zM50.95 242.70a1.75 1.75 0 1 0 3.5 0a1.75 1.75 0 1 0 -3.5 0zM51.95 250.60a1.75 1.75 0 1 0 3.5 0a1.75 1.75 0 1 0 -3.5 0zM53.55 247.10a1.75 1.75 0 1 0 3.5 0a1.75 1.75 0 1 0 -3.5 0zM54.95 247.50a1.75 1.75 0 1 0 3.5 0a1.75 1.75 0 1 0 -3.5 0zM56.25 246.10a1.75 1.75 0 1 0 3.5 0a1.75 1.75 0 1 0 -3.5 0zM57.45 240.20a1.75 1.75 0 1 0 3.5 0a1.75 1.75 0 1 0 -3.5 0zM58.45 249.60a1.75 1.75 0 1 0 3.5 0a1.75 1.75 0 1 0 -3.5 0zM59.85 248.70a1.75 1.75 0 1 0 3.5 0a1.75 1.75 0 1 0 -3.5 0zM61.25 248.10a1.75 1.75 0 1 0 3.5 0a1.75 1.75 0 1 0 -3.5 0zM62.85 246.10a1.75 1.75 0 1 0 3.5 0a1.75 1.75 0 1 0 -3.5 0zM64.15 247.10a1.75 1.75 0 1 0 3.5 0a1.75 1.75 0 1 0 -3.5 0zM66.35 254.00a1.75 1.75 0 1 0 3.5 0a1.75 1.75 0 1 0 -3.5 0zM67.35 233.80a1.75 1.75 0 1 0 3.5 0a1.75 1.75 0 1 0 -3.5 0zM68.75 226.30a1.75 1.75 0 1 0 3.5 0a1.75 1.75 0 1 0 -3.5 0zM70.15 217.20a1.75 1.75 0 1 0 3.5 0a1.75 1.75 0 1 0 -3.5 0zM73.05 217.20a1.75 1.75 0 1 0 3.5 0a1.75 1.75 0 1 0 -3.5 0zM74.05 226.90a1.75 1.75 0 1 0 3.5 0a1.75 1.75 0 1 0 -3.5 0zM75.25 227.70a1.75 1.75 0 1 0 3.5 0a1.75 1.75 0 1 0 -3.5 0zM76.65 228.30a1.75 1.75 0 1 0 3.5 0a1.75 1.75 0 1 0 -3.5 0zM78.05 229.30a1.75 1.75 0 1 0 3.5 0a1.75 1.75 0 1 0 -3.5 0zM79.25 227.30a1.75 1.75 0 1 0 3.5 0a1.75 1.75 0 1 0 -3.5 0zM80.55 228.30a1.75 1.75 0 1 0 3.5 0a1.75 1.75 0 1 0 -3.5 0zM81.95 227.70a1.75 1.75 0 1 0 3.5 0a1.75 1.75 0 1 0 -3.5 0zM83.55 227.30a1.75 1.75 0 1 0 3.5 0a1.75 1.75 0 1 0 -3.5 0zM84.95 232.80a1.75 1.75 0 1 0 3.5 0a1.75 1.75 0 1 0 -3.5 0zM86.55 218.40a1.75 1.75 0 1 0 3.5 0a1.75 1.75 0 1 0 -3.5 0zM87.55 232.80a1.75 1.75 0 1 0 3.5 0a1.75 1.75 0 1 0 -3.5 0zM89.05 230.30a1.75 1.75 0 1 0 3.5 0a1.75 1.75 0 1 0 -3.5 0zM90.45 231.30a1.75 1.75 0 1 0 3.5 0a1.75 1.75 0 1 0 -3.5 0zM92.05 234.80a1.75 1.75 0 1 0 3.5 0a1.75 1.75 0 1 0 -3.5 0zM93.15 253.40a1.75 1.75 0 1 0 3.5 0a1.75 1.75 0 1 0 -3.5 0zM94.55 251.00a1.75 1.75 0 1 0 3.5 0a1.75 1.75 0 1 0 -3.5 0zM95.75 250.00a1.75 1.75 0 1 0 3.5 0a1.75 1.75 0 1 0 -3.5 0zM97.15 252.00a1.75 1.75 0 1 0 3.5 0a1.75 1.75 0 1 0 -3.5 0zM98.55 251.00a1.75 1.75 0 1 0 3.5 0a1.75 1.75 0 1 0 -3.5 0zM100.05 250.00a1.75 1.75 0 1 0 3.5 0a1.75 1.75 0 1 0 -3.5 0zM101.65 251.00a1.75 1.75 0 1 0 3.5 0a1.75 1.75 0 1 0 -3.5 0zM103.05 251.40a1.75 1.75 0 1 0 3.5 0a1.75 1.75 0 1 0 -3.5 0zM104.45 253.00a1.75 1.75 0 1 0 3.5 0a1.75 1.75 0 1 0 -3.5 0zM106.05 251.00a1.75 1.75 0 1 0 3.5 0a1.75 1.75 0 1 0 -3.5 0zM107.55 252.60a1.75 1.75 0 1 0 3.5 0a1.75 1.75 0 1 0 -3.5 0zM108.95 251.00a1.75 1.75 0 1 0 3.5 0a1.75 1.75 0 1 0 -3.5 0zM110.35 254.00a1.75 1.75 0 1 0 3.5 0a1.75 1.75 0 1 0 -3.5 0zM111.55 254.00a1.75 1.75 0 1 0 3.5 0a1.75 1.75 0 1 0 -3.5 0zM112.95 252.00a1.75 1.75 0 1 0 3.5 0a1.75 1.75 0 1 0 -3.5 0zM114.35 254.00a1.75 1.75 0 1 0 3.5 0a1.75 1.75 0 1 0 -3.5 0zM115.85 254.60a1.75 1.75 0 1 0 3.5 0a1.75 1.75 0 1 0 -3.5 0zM117.45 254.00a1.75 1.75 0 1 0 3.5 0a1.75 1.75 0 1 0 -3.5 0zM118.45 237.20a1.75 1.75 0 1 0 3.5 0a1.75 1.75 0 1 0 -3.5 0zM119.85 236.80a1.75 1.75 0 1 0 3.5 0a1.75 1.75 0 1 0 -3.5 0zM121.45 237.20a1.75 1.75 0 1 0 3.5 0a1.75 1.75 0 1 0 -3.5 0zM122.85 232.80a1.75 1.75 0 1 0 3.5 0a1.75 1.75 0 1 0 -3.5 0zM124.25 233.60a1.75 1.75 0 1 0 3.5 0a1.75 1.75 0 1 0 -3.5 0zM125.35 234.20a1.75 1.75 0 1 0 3.5 0a1.75 1.75 0 1 0 -3.5 0zM126.75 239.60a1.75 1.75 0 1 0 3.5 0a1.75 1.75 0 1 0 -3.5 0zM128.15 238.20a1.75 1.75 0 1 0 3.5 0a1.75 1.75 0 1 0 -3.5 0zM129.35 231.30a1.75 1.75 0 1 0 3.5 0a1.75 1.75 0 1 0 -3.5 0zM130.75 235.20a1.75 1.75 0 1 0 3.5 0a1.75 1.75 0 1 0 -3.5 0zM132.05 236.20a1.75 1.75 0 1 0 3.5 0a1.75 1.75 0 1 0 -3.5 0zM133.25 238.20a1.75 1.75 0 1 0 3.5 0a1.75 1.75 0 1 0 -3.5 0zM134.65 235.20a1.75 1.75 0 1 0 3.5 0a1.75 1.75 0 1 0 -3.5 0zM135.65 233.60a1.75 1.75 0 1 0 3.5 0a1.75 1.75 0 1 0 -3.5 0zM137.05 239.20a1.75 1.75 0 1 0 3.5 0a1.75 1.75 0 1 0 -3.5 0zM138.05 237.60a1.75 1.75 0 1 0 3.5 0a1.75 1.75 0 1 0 -3.5 0zM139.25 236.20a1.75 1.75 0 1 0 3.5 0a1.75 1.75 0 1 0 -3.5 0zM140.55 239.60a1.75 1.75 0 1 0 3.5 0a1.75 1.75 0 1 0 -3.5 0zM141.15 244.10a1.75 1.75 0 1 0 3.5 0a1.75 1.75 0 1 0 -3.5 0zM142.55 238.20a1.75 1.75 0 1 0 3.5 0a1.75 1.75 0 1 0 -3.5 0zM143.95 236.80a1.75 1.75 0 1 0 3.5 0a1.75 1.75 0 1 0 -3.5 0z" fill="#000"/><path d="M73.30 213.58L75.72 217.98L70.88 217.98z" fill="#000"/><polyline points="203.00,213.50 204.30,218.40 205.30,217.40 206.90,204.60 208.30,202.00 209.50,196.30 210.50,207.90 211.90,207.50 213.00,212.50 214.20,224.90 215.40,203.20 217.00,183.40 218.20,193.70 219.20,187.40 220.40,196.30 221.70,212.50 223.10,183.40 224.30,194.10 225.70,221.00 226.70,209.50 228.10,207.20 229.20,210.50 230.60,206.60 231.60,211.90 233.00,212.50 234.00,217.00 235.20,212.50 236.00,217.00 237.20,207.20 238.10,202.60 239.10,205.60 240.50,234.20 241.90,238.80 243.10,232.30 244.50,217.40 245.50,227.30 246.80,225.70 247.80,238.80 249.40,211.50 250.40,218.40 251.80,238.20 253.00,229.30 254.30,238.20 255.70,223.80 256.70,238.80 257.90,229.30 259.30,233.60 260.40,239.20 261.60,240.20 262.90,231.30 264.30,235.20 265.50,216.40 266.90,207.50 267.90,201.60 269.30,201.00 270.50,187.40 271.40,191.30 272.80,199.60 274.20,201.20 275.40,223.00 276.80,198.70 277.80,211.50 279.10,205.60 280.30,214.50 281.70,201.20 282.70,211.50 284.10,213.10 285.30,197.30 286.70,202.00 288.00,211.90 289.20,191.30 290.20,207.50 291.60,204.00 293.00,211.10 294.20,216.40 295.50,210.50 296.90,217.00 297.90,212.50 299.10,231.30 300.50,236.20 301.90,211.90 303.10,229.70 304.40,229.30 305.40,226.30 306.80,217.80 308.00,228.30 309.40,221.40 310.40,213.90 311.80,209.10 313.00,232.80 314.70,209.50" fill="none" stroke="#9a9a9a" stroke-width="0.6"/><path d="M201.25 213.50a1.75 1.75 0 1 0 3.5 0a1.75 1.75 0 1 0 -3.5 0zM202.55 218.40a1.75 1.75 0 1 0 3.5 0a1.75 1.75 0 1 0 -3.5 0zM203.55 217.40a1.75 1.75 0 1 0 3.5 0a1.75 1.75 0 1 0 -3.5 0zM205.15 204.60a1.75 1.75 0 1 0 3.5 0a1.75 1.75 0 1 0 -3.5 0zM206.55 202.00a1.75 1.75 0 1 0 3.5 0a1.75 1.75 0 1 0 -3.5 0zM207.75 196.30a1.75 1.75 0 1 0 3.5 0a1.75 1.75 0 1 0 -3.5 0zM208.75 207.90a1.75 1.75 0 1 0 3.5 0a1.75 1.75 0 1 0 -3.5 0zM210.15 207.50a1.75 1.75 0 1 0 3.5 0a1.75 1.75 0 1 0 -3.5 0zM211.25 212.50a1.75 1.75 0 1 0 3.5 0a1.75 1.75 0 1 0 -3.5 0zM212.45 224.90a1.75 1.75 0 1 0 3.5 0a1.75 1.75 0 1 0 -3.5 0zM213.65 203.20a1.75 1.75 0 1 0 3.5 0a1.75 1.75 0 1 0 -3.5 0zM215.25 183.40a1.75 1.75 0 1 0 3.5 0a1.75 1.75 0 1 0 -3.5 0zM216.45 193.70a1.75 1.75 0 1 0 3.5 0a1.75 1.75 0 1 0 -3.5 0zM217.45 187.40a1.75 1.75 0 1 0 3.5 0a1.75 1.75 0 1 0 -3.5 0zM218.65 196.30a1.75 1.75 0 1 0 3.5 0a1.75 1.75 0 1 0 -3.5 0zM219.95 212.50a1.75 1.75 0 1 0 3.5 0a1.75 1.75 0 1 0 -3.5 0zM221.35 183.40a1.75 1.75 0 1 0 3.5 0a1.75 1.75 0 1 0 -3.5 0zM222.55 194.10a1.75 1.75 0 1 0 3.5 0a1.75 1.75 0 1 0 -3.5 0zM223.95 221.00a1.75 1.75 0 1 0 3.5 0a1.75 1.75 0 1 0 -3.5 0zM224.95 209.50a1.75 1.75 0 1 0 3.5 0a1.75 1.75 0 1 0 -3.5 0zM226.35 207.20a1.75 1.75 0 1 0 3.5 0a1.75 1.75 0 1 0 -3.5 0zM227.45 210.50a1.75 1.75 0 1 0 3.5 0a1.75 1.75 0 1 0 -3.5 0zM228.85 206.60a1.75 1.75 0 1 0 3.5 0a1.75 1.75 0 1 0 -3.5 0zM229.85 211.90a1.75 1.75 0 1 0 3.5 0a1.75 1.75 0 1 0 -3.5 0zM231.25 212.50a1.75 1.75 0 1 0 3.5 0a1.75 1.75 0 1 0 -3.5 0zM232.25 217.00a1.75 1.75 0 1 0 3.5 0a1.75 1.75 0 1 0 -3.5 0zM233.45 212.50a1.75 1.75 0 1 0 3.5 0a1.75 1.75 0 1 0 -3.5 0zM234.25 217.00a1.75 1.75 0 1 0 3.5 0a1.75 1.75 0 1 0 -3.5 0zM235.45 207.20a1.75 1.75 0 1 0 3.5 0a1.75 1.75 0 1 0 -3.5 0zM236.35 202.60a1.75 1.75 0 1 0 3.5 0a1.75 1.75 0 1 0 -3.5 0zM237.35 205.60a1.75 1.75 0 1 0 3.5 0a1.75 1.75 0 1 0 -3.5 0zM238.75 234.20a1.75 1.75 0 1 0 3.5 0a1.75 1.75 0 1 0 -3.5 0zM240.15 238.80a1.75 1.75 0 1 0 3.5 0a1.75 1.75 0 1 0 -3.5 0zM241.35 232.30a1.75 1.75 0 1 0 3.5 0a1.75 1.75 0 1 0 -3.5 0zM242.75 217.40a1.75 1.75 0 1 0 3.5 0a1.75 1.75 0 1 0 -3.5 0zM243.75 227.30a1.75 1.75 0 1 0 3.5 0a1.75 1.75 0 1 0 -3.5 0zM245.05 225.70a1.75 1.75 0 1 0 3.5 0a1.75 1.75 0 1 0 -3.5 0zM246.05 238.80a1.75 1.75 0 1 0 3.5 0a1.75 1.75 0 1 0 -3.5 0zM247.65 211.50a1.75 1.75 0 1 0 3.5 0a1.75 1.75 0 1 0 -3.5 0zM248.65 218.40a1.75 1.75 0 1 0 3.5 0a1.75 1.75 0 1 0 -3.5 0zM250.05 238.20a1.75 1.75 0 1 0 3.5 0a1.75 1.75 0 1 0 -3.5 0zM251.25 229.30a1.75 1.75 0 1 0 3.5 0a1.75 1.75 0 1 0 -3.5 0zM252.55 238.20a1.75 1.75 0 1 0 3.5 0a1.75 1.75 0 1 0 -3.5 0zM253.95 223.80a1.75 1.75 0 1 0 3.5 0a1.75 1.75 0 1 0 -3.5 0zM254.95 238.80a1.75 1.75 0 1 0 3.5 0a1.75 1.75 0 1 0 -3.5 0zM256.15 229.30a1.75 1.75 0 1 0 3.5 0a1.75 1.75 0 1 0 -3.5 0zM257.55 233.60a1.75 1.75 0 1 0 3.5 0a1.75 1.75 0 1 0 -3.5 0zM258.65 239.20a1.75 1.75 0 1 0 3.5 0a1.75 1.75 0 1 0 -3.5 0zM259.85 240.20a1.75 1.75 0 1 0 3.5 0a1.75 1.75 0 1 0 -3.5 0zM261.15 231.30a1.75 1.75 0 1 0 3.5 0a1.75 1.75 0 1 0 -3.5 0zM262.55 235.20a1.75 1.75 0 1 0 3.5 0a1.75 1.75 0 1 0 -3.5 0zM263.75 216.40a1.75 1.75 0 1 0 3.5 0a1.75 1.75 0 1 0 -3.5 0zM265.15 207.50a1.75 1.75 0 1 0 3.5 0a1.75 1.75 0 1 0 -3.5 0zM266.15 201.60a1.75 1.75 0 1 0 3.5 0a1.75 1.75 0 1 0 -3.5 0zM267.55 201.00a1.75 1.75 0 1 0 3.5 0a1.75 1.75 0 1 0 -3.5 0zM268.75 187.40a1.75 1.75 0 1 0 3.5 0a1.75 1.75 0 1 0 -3.5 0zM269.65 191.30a1.75 1.75 0 1 0 3.5 0a1.75 1.75 0 1 0 -3.5 0zM271.05 199.60a1.75 1.75 0 1 0 3.5 0a1.75 1.75 0 1 0 -3.5 0zM272.45 201.20a1.75 1.75 0 1 0 3.5 0a1.75 1.75 0 1 0 -3.5 0zM273.65 223.00a1.75 1.75 0 1 0 3.5 0a1.75 1.75 0 1 0 -3.5 0zM275.05 198.70a1.75 1.75 0 1 0 3.5 0a1.75 1.75 0 1 0 -3.5 0zM276.05 211.50a1.75 1.75 0 1 0 3.5 0a1.75 1.75 0 1 0 -3.5 0zM277.35 205.60a1.75 1.75 0 1 0 3.5 0a1.75 1.75 0 1 0 -3.5 0zM278.55 214.50a1.75 1.75 0 1 0 3.5 0a1.75 1.75 0 1 0 -3.5 0zM279.95 201.20a1.75 1.75 0 1 0 3.5 0a1.75 1.75 0 1 0 -3.5 0zM280.95 211.50a1.75 1.75 0 1 0 3.5 0a1.75 1.75 0 1 0 -3.5 0zM282.35 213.10a1.75 1.75 0 1 0 3.5 0a1.75 1.75 0 1 0 -3.5 0zM283.55 197.30a1.75 1.75 0 1 0 3.5 0a1.75 1.75 0 1 0 -3.5 0zM284.95 202.00a1.75 1.75 0 1 0 3.5 0a1.75 1.75 0 1 0 -3.5 0zM286.25 211.90a1.75 1.75 0 1 0 3.5 0a1.75 1.75 0 1 0 -3.5 0zM287.45 191.30a1.75 1.75 0 1 0 3.5 0a1.75 1.75 0 1 0 -3.5 0zM288.45 207.50a1.75 1.75 0 1 0 3.5 0a1.75 1.75 0 1 0 -3.5 0zM289.85 204.00a1.75 1.75 0 1 0 3.5 0a1.75 1.75 0 1 0 -3.5 0zM291.25 211.10a1.75 1.75 0 1 0 3.5 0a1.75 1.75 0 1 0 -3.5 0zM292.45 216.40a1.75 1.75 0 1 0 3.5 0a1.75 1.75 0 1 0 -3.5 0zM293.75 210.50a1.75 1.75 0 1 0 3.5 0a1.75 1.75 0 1 0 -3.5 0zM295.15 217.00a1.75 1.75 0 1 0 3.5 0a1.75 1.75 0 1 0 -3.5 0zM296.15 212.50a1.75 1.75 0 1 0 3.5 0a1.75 1.75 0 1 0 -3.5 0zM297.35 231.30a1.75 1.75 0 1 0 3.5 0a1.75 1.75 0 1 0 -3.5 0zM298.75 236.20a1.75 1.75 0 1 0 3.5 0a1.75 1.75 0 1 0 -3.5 0zM300.15 211.90a1.75 1.75 0 1 0 3.5 0a1.75 1.75 0 1 0 -3.5 0zM301.35 229.70a1.75 1.75 0 1 0 3.5 0a1.75 1.75 0 1 0 -3.5 0zM302.65 229.30a1.75 1.75 0 1 0 3.5 0a1.75 1.75 0 1 0 -3.5 0zM303.65 226.30a1.75 1.75 0 1 0 3.5 0a1.75 1.75 0 1 0 -3.5 0zM305.05 217.80a1.75 1.75 0 1 0 3.5 0a1.75 1.75 0 1 0 -3.5 0zM306.25 228.30a1.75 1.75 0 1 0 3.5 0a1.75 1.75 0 1 0 -3.5 0zM307.65 221.40a1.75 1.75 0 1 0 3.5 0a1.75 1.75 0 1 0 -3.5 0zM308.65 213.90a1.75 1.75 0 1 0 3.5 0a1.75 1.75 0 1 0 -3.5 0zM310.05 209.10a1.75 1.75 0 1 0 3.5 0a1.75 1.75 0 1 0 -3.5 0zM311.25 232.80a1.75 1.75 0 1 0 3.5 0a1.75 1.75 0 1 0 -3.5 0zM312.95 209.50a1.75 1.75 0 1 0 3.5 0a1.75 1.75 0 1 0 -3.5 0z" fill="#000"/><polyline points="32.00,342.50 32.90,358.90 34.30,366.20 35.90,365.60 37.30,362.30 38.50,358.90 39.90,358.90 40.80,346.40 42.20,336.60 43.40,348.40 44.80,347.40 46.20,358.90 47.20,364.20 48.80,364.80 50.10,365.20 51.30,369.60 52.70,364.20 53.70,362.80 55.10,360.30 56.30,360.30 57.60,363.20 59.00,362.30 60.20,360.90 61.60,360.90 62.60,364.80 63.60,359.30 65.20,358.30 66.50,360.30 67.50,347.00 68.90,358.30 70.10,335.60 71.50,343.10 73.10,337.90 74.40,337.50 76.00,347.40 77.40,340.50 79.00,330.60 80.40,338.50 81.40,344.50 82.90,344.50 84.30,335.60 85.30,338.50 86.70,329.20 87.70,324.10 88.90,334.60 90.30,333.20 91.60,337.90 92.80,325.70 93.80,323.30 95.20,345.80 96.60,353.40 97.60,358.90 98.90,360.30 100.30,361.30 101.40,362.80 102.80,362.80 104.20,363.60 105.40,359.30 106.20,361.30 107.20,366.20 108.40,359.70 109.30,362.80 110.30,364.20 111.30,366.80 112.30,369.20 113.30,364.20 114.70,359.70 116.10,357.30 117.60,356.30 119.20,357.70 120.60,323.30 121.60,329.60 123.00,332.00 124.20,325.70 125.20,329.60 126.50,330.60 127.90,331.20 129.50,324.70 130.50,324.70 131.90,319.80 133.10,310.90 134.40,309.50 135.40,307.90 136.80,319.80 138.00,316.80 139.40,312.30 141.00,310.90 142.30,314.20 143.30,310.90 144.30,315.80 145.30,316.80" fill="none" stroke="#9a9a9a" stroke-width="0.6"/><path d="M30.55 341.05h2.9v2.9h-2.9zM31.45 357.45h2.9v2.9h-2.9zM32.85 364.75h2.9v2.9h-2.9zM34.45 364.15h2.9v2.9h-2.9zM35.85 360.85h2.9v2.9h-2.9zM37.05 357.45h2.9v2.9h-2.9zM38.45 357.45h2.9v2.9h-2.9zM39.35 344.95h2.9v2.9h-2.9zM40.75 335.15h2.9v2.9h-2.9zM41.95 346.95h2.9v2.9h-2.9zM43.35 345.95h2.9v2.9h-2.9zM44.75 357.45h2.9v2.9h-2.9zM45.75 362.75h2.9v2.9h-2.9zM47.35 363.35h2.9v2.9h-2.9zM48.65 363.75h2.9v2.9h-2.9zM49.85 368.15h2.9v2.9h-2.9zM51.25 362.75h2.9v2.9h-2.9zM52.25 361.35h2.9v2.9h-2.9zM53.65 358.85h2.9v2.9h-2.9zM54.85 358.85h2.9v2.9h-2.9zM56.15 361.75h2.9v2.9h-2.9zM57.55 360.85h2.9v2.9h-2.9zM58.75 359.45h2.9v2.9h-2.9zM60.15 359.45h2.9v2.9h-2.9zM61.15 363.35h2.9v2.9h-2.9zM62.15 357.85h2.9v2.9h-2.9zM63.75 356.85h2.9v2.9h-2.9zM65.05 358.85h2.9v2.9h-2.9zM66.05 345.55h2.9v2.9h-2.9zM67.45 356.85h2.9v2.9h-2.9zM68.65 334.15h2.9v2.9h-2.9zM70.05 341.65h2.9v2.9h-2.9zM71.65 336.45h2.9v2.9h-2.9zM72.95 336.05h2.9v2.9h-2.9zM74.55 345.95h2.9v2.9h-2.9zM75.95 339.05h2.9v2.9h-2.9zM77.55 329.15h2.9v2.9h-2.9zM78.95 337.05h2.9v2.9h-2.9zM79.95 343.05h2.9v2.9h-2.9zM81.45 343.05h2.9v2.9h-2.9zM82.85 334.15h2.9v2.9h-2.9zM83.85 337.05h2.9v2.9h-2.9zM85.25 327.75h2.9v2.9h-2.9zM86.25 322.65h2.9v2.9h-2.9zM87.45 333.15h2.9v2.9h-2.9zM88.85 331.75h2.9v2.9h-2.9zM90.15 336.45h2.9v2.9h-2.9zM91.35 324.25h2.9v2.9h-2.9zM92.35 321.85h2.9v2.9h-2.9zM93.75 344.35h2.9v2.9h-2.9zM95.15 351.95h2.9v2.9h-2.9zM96.15 357.45h2.9v2.9h-2.9zM97.45 358.85h2.9v2.9h-2.9zM98.85 359.85h2.9v2.9h-2.9zM99.95 361.35h2.9v2.9h-2.9zM101.35 361.35h2.9v2.9h-2.9zM102.75 362.15h2.9v2.9h-2.9zM103.95 357.85h2.9v2.9h-2.9zM104.75 359.85h2.9v2.9h-2.9zM105.75 364.75h2.9v2.9h-2.9zM106.95 358.25h2.9v2.9h-2.9zM107.85 361.35h2.9v2.9h-2.9zM108.85 362.75h2.9v2.9h-2.9zM109.85 365.35h2.9v2.9h-2.9zM110.85 367.75h2.9v2.9h-2.9zM111.85 362.75h2.9v2.9h-2.9zM113.25 358.25h2.9v2.9h-2.9zM114.65 355.85h2.9v2.9h-2.9zM116.15 354.85h2.9v2.9h-2.9zM117.75 356.25h2.9v2.9h-2.9zM119.15 321.85h2.9v2.9h-2.9zM120.15 328.15h2.9v2.9h-2.9zM121.55 330.55h2.9v2.9h-2.9zM122.75 324.25h2.9v2.9h-2.9zM123.75 328.15h2.9v2.9h-2.9zM125.05 329.15h2.9v2.9h-2.9zM126.45 329.75h2.9v2.9h-2.9zM128.05 323.25h2.9v2.9h-2.9zM129.05 323.25h2.9v2.9h-2.9zM130.45 318.35h2.9v2.9h-2.9zM131.65 309.45h2.9v2.9h-2.9zM132.95 308.05h2.9v2.9h-2.9zM133.95 306.45h2.9v2.9h-2.9zM135.35 318.35h2.9v2.9h-2.9zM136.55 315.35h2.9v2.9h-2.9zM137.95 310.85h2.9v2.9h-2.9zM139.55 309.45h2.9v2.9h-2.9zM140.85 312.75h2.9v2.9h-2.9zM141.85 309.45h2.9v2.9h-2.9zM142.85 314.35h2.9v2.9h-2.9zM143.85 315.35h2.9v2.9h-2.9z" fill="#000"/><polyline points="205.60,384.00 206.30,381.00 207.50,384.00 208.90,384.00 209.90,374.70 211.30,377.10 212.50,385.40 213.50,386.60 214.80,383.40 216.20,384.00 217.40,387.90 218.80,389.30 220.20,388.50 221.40,387.90 222.80,382.60 223.70,383.00 225.10,376.70 226.70,377.50 228.10,378.10 229.70,373.50 231.10,374.10 232.20,375.10 233.60,376.70 234.60,374.10 236.00,370.80 237.20,368.80 238.60,366.80 239.90,368.20 241.10,367.60 242.50,368.80 243.50,374.10 244.10,381.00 245.50,385.00 246.50,381.40 247.80,380.60 249.40,381.40 250.40,375.10 252.00,372.10 253.40,367.60 254.80,365.60 255.80,374.10 256.70,368.20 257.90,371.10 259.30,378.10 259.60,371.00 261.00,367.10 262.30,366.10 263.90,369.00 265.30,374.00 266.30,362.70 267.50,358.20 268.90,337.40 269.90,331.50 270.80,329.50 271.40,322.00 272.80,326.60 273.80,324.60 274.80,322.60 276.20,322.00 277.40,323.20 278.80,324.00 280.10,325.20 281.30,331.50 282.70,331.10 283.70,330.50 285.10,325.60 286.30,326.20 287.20,320.60 288.60,321.60 289.60,309.40 290.60,353.60 292.00,352.80 293.20,360.20 294.60,373.00 295.50,369.40 296.90,371.00 298.10,374.00 299.50,379.30 300.50,375.00 301.90,370.00 303.10,365.50 304.40,365.50 305.40,361.10 306.80,357.60 308.00,361.50 309.40,360.20 311.00,357.20 312.00,358.80 313.30,357.20 314.70,357.60" fill="none" stroke="#9a9a9a" stroke-width="0.6"/><path d="M204.15 382.55h2.9v2.9h-2.9zM204.85 379.55h2.9v2.9h-2.9zM206.05 382.55h2.9v2.9h-2.9zM207.45 382.55h2.9v2.9h-2.9zM208.45 373.25h2.9v2.9h-2.9zM209.85 375.65h2.9v2.9h-2.9zM211.05 383.95h2.9v2.9h-2.9zM212.05 385.15h2.9v2.9h-2.9zM213.35 381.95h2.9v2.9h-2.9zM214.75 382.55h2.9v2.9h-2.9zM215.95 386.45h2.9v2.9h-2.9zM217.35 387.85h2.9v2.9h-2.9zM218.75 387.05h2.9v2.9h-2.9zM219.95 386.45h2.9v2.9h-2.9zM221.35 381.15h2.9v2.9h-2.9zM222.25 381.55h2.9v2.9h-2.9zM223.65 375.25h2.9v2.9h-2.9zM225.25 376.05h2.9v2.9h-2.9zM226.65 376.65h2.9v2.9h-2.9zM228.25 372.05h2.9v2.9h-2.9zM229.65 372.65h2.9v2.9h-2.9zM230.75 373.65h2.9v2.9h-2.9zM232.15 375.25h2.9v2.9h-2.9zM233.15 372.65h2.9v2.9h-2.9zM234.55 369.35h2.9v2.9h-2.9zM235.75 367.35h2.9v2.9h-2.9zM237.15 365.35h2.9v2.9h-2.9zM238.45 366.75h2.9v2.9h-2.9zM239.65 366.15h2.9v2.9h-2.9zM241.05 367.35h2.9v2.9h-2.9zM242.05 372.65h2.9v2.9h-2.9zM242.65 379.55h2.9v2.9h-2.9zM244.05 383.55h2.9v2.9h-2.9zM245.05 379.95h2.9v2.9h-2.9zM246.35 379.15h2.9v2.9h-2.9zM247.95 379.95h2.9v2.9h-2.9zM248.95 373.65h2.9v2.9h-2.9zM250.55 370.65h2.9v2.9h-2.9zM251.95 366.15h2.9v2.9h-2.9zM253.35 364.15h2.9v2.9h-2.9zM254.35 372.65h2.9v2.9h-2.9zM255.25 366.75h2.9v2.9h-2.9zM256.45 369.65h2.9v2.9h-2.9zM257.85 376.65h2.9v2.9h-2.9zM258.15 369.55h2.9v2.9h-2.9zM259.55 365.65h2.9v2.9h-2.9zM260.85 364.65h2.9v2.9h-2.9zM262.45 367.55h2.9v2.9h-2.9zM263.85 372.55h2.9v2.9h-2.9zM264.85 361.25h2.9v2.9h-2.9zM266.05 356.75h2.9v2.9h-2.9zM267.45 335.95h2.9v2.9h-2.9zM268.45 330.05h2.9v2.9h-2.9zM269.35 328.05h2.9v2.9h-2.9zM269.95 320.55h2.9v2.9h-2.9zM271.35 325.15h2.9v2.9h-2.9zM272.35 323.15h2.9v2.9h-2.9zM273.35 321.15h2.9v2.9h-2.9zM274.75 320.55h2.9v2.9h-2.9zM275.95 321.75h2.9v2.9h-2.9zM277.35 322.55h2.9v2.9h-2.9zM278.65 323.75h2.9v2.9h-2.9zM279.85 330.05h2.9v2.9h-2.9zM281.25 329.65h2.9v2.9h-2.9zM282.25 329.05h2.9v2.9h-2.9zM283.65 324.15h2.9v2.9h-2.9zM284.85 324.75h2.9v2.9h-2.9zM285.75 319.15h2.9v2.9h-2.9zM287.15 320.15h2.9v2.9h-2.9zM288.15 307.95h2.9v2.9h-2.9zM289.15 352.15h2.9v2.9h-2.9zM290.55 351.35h2.9v2.9h-2.9zM291.75 358.75h2.9v2.9h-2.9zM293.15 371.55h2.9v2.9h-2.9zM294.05 367.95h2.9v2.9h-2.9zM295.45 369.55h2.9v2.9h-2.9zM296.65 372.55h2.9v2.9h-2.9zM298.05 377.85h2.9v2.9h-2.9zM299.05 373.55h2.9v2.9h-2.9zM300.45 368.55h2.9v2.9h-2.9zM301.65 364.05h2.9v2.9h-2.9zM302.95 364.05h2.9v2.9h-2.9zM303.95 359.65h2.9v2.9h-2.9zM305.35 356.15h2.9v2.9h-2.9zM306.55 360.05h2.9v2.9h-2.9zM307.95 358.75h2.9v2.9h-2.9zM309.55 355.75h2.9v2.9h-2.9zM310.55 357.35h2.9v2.9h-2.9zM311.85 355.75h2.9v2.9h-2.9zM313.25 356.15h2.9v2.9h-2.9z" fill="#000"/><polyline points="31.64,433.40 33.29,437.40 34.31,445.90 35.58,445.90 36.84,445.90 38.11,445.90 39.38,445.90 40.65,445.90 41.92,445.90 43.19,445.90 44.46,471.80 45.73,475.70 47.00,484.20 48.27,488.20 49.54,492.70 50.80,492.70 52.07,492.70 53.34,492.70 54.61,492.70 55.88,492.70 57.15,492.70 58.42,492.70 59.69,492.70 60.96,492.70 62.23,492.70 63.49,492.70 64.76,492.70 66.03,492.70 67.30,492.70 68.57,492.70 69.84,475.70 71.11,471.80 72.38,467.40 73.65,458.50 74.92,450.00 76.18,445.90 77.45,445.90 78.72,445.90 79.99,445.90 81.26,445.90 82.53,445.90 83.80,445.90 85.07,445.90 86.34,445.90 87.61,445.90 88.87,445.90 90.14,445.90 91.41,445.90 92.68,445.90 93.95,445.90 95.22,492.70 96.49,497.10 97.76,501.00 99.03,501.00 100.30,501.00 101.56,506.00 102.83,506.00 104.10,510.00 105.37,510.00 106.64,506.00 107.91,506.00 109.18,506.00 110.45,506.00 111.72,506.00 112.99,506.00 114.25,506.00 115.52,506.00 116.79,510.00 118.06,510.00 119.33,506.00 120.60,492.70 121.87,479.70 123.14,471.80 124.41,467.40 125.68,463.10 126.94,458.50 128.21,454.60 129.48,458.50 130.75,458.50 132.02,463.10 133.29,458.50 134.56,458.50 135.83,458.50 137.10,454.60 138.37,454.60 139.63,454.60 140.90,450.00 142.17,454.60 143.44,454.60 144.71,450.00" fill="none" stroke="#9a9a9a" stroke-width="0.6"/><path d="M30.19 431.95h2.9v2.9h-2.9zM31.84 435.95h2.9v2.9h-2.9zM32.86 444.45h2.9v2.9h-2.9zM34.13 444.45h2.9v2.9h-2.9zM35.39 444.45h2.9v2.9h-2.9zM36.66 444.45h2.9v2.9h-2.9zM37.93 444.45h2.9v2.9h-2.9zM39.20 444.45h2.9v2.9h-2.9zM40.47 444.45h2.9v2.9h-2.9zM41.74 444.45h2.9v2.9h-2.9zM43.01 470.35h2.9v2.9h-2.9zM44.28 474.25h2.9v2.9h-2.9zM45.55 482.75h2.9v2.9h-2.9zM46.82 486.75h2.9v2.9h-2.9zM48.09 491.25h2.9v2.9h-2.9zM49.35 491.25h2.9v2.9h-2.9zM50.62 491.25h2.9v2.9h-2.9zM51.89 491.25h2.9v2.9h-2.9zM53.16 491.25h2.9v2.9h-2.9zM54.43 491.25h2.9v2.9h-2.9zM55.70 491.25h2.9v2.9h-2.9zM56.97 491.25h2.9v2.9h-2.9zM58.24 491.25h2.9v2.9h-2.9zM59.51 491.25h2.9v2.9h-2.9zM60.77 491.25h2.9v2.9h-2.9zM62.04 491.25h2.9v2.9h-2.9zM63.31 491.25h2.9v2.9h-2.9zM64.58 491.25h2.9v2.9h-2.9zM65.85 491.25h2.9v2.9h-2.9zM67.12 491.25h2.9v2.9h-2.9zM68.39 474.25h2.9v2.9h-2.9zM69.66 470.35h2.9v2.9h-2.9zM70.93 465.95h2.9v2.9h-2.9zM72.20 457.05h2.9v2.9h-2.9zM73.47 448.55h2.9v2.9h-2.9zM74.73 444.45h2.9v2.9h-2.9zM76.00 444.45h2.9v2.9h-2.9zM77.27 444.45h2.9v2.9h-2.9zM78.54 444.45h2.9v2.9h-2.9zM79.81 444.45h2.9v2.9h-2.9zM81.08 444.45h2.9v2.9h-2.9zM82.35 444.45h2.9v2.9h-2.9zM83.62 444.45h2.9v2.9h-2.9zM84.89 444.45h2.9v2.9h-2.9zM86.16 444.45h2.9v2.9h-2.9zM87.42 444.45h2.9v2.9h-2.9zM88.69 444.45h2.9v2.9h-2.9zM89.96 444.45h2.9v2.9h-2.9zM91.23 444.45h2.9v2.9h-2.9zM92.50 444.45h2.9v2.9h-2.9zM93.77 491.25h2.9v2.9h-2.9zM95.04 495.65h2.9v2.9h-2.9zM96.31 499.55h2.9v2.9h-2.9zM97.58 499.55h2.9v2.9h-2.9zM98.84 499.55h2.9v2.9h-2.9zM100.11 504.55h2.9v2.9h-2.9zM101.38 504.55h2.9v2.9h-2.9zM102.65 508.55h2.9v2.9h-2.9zM103.92 508.55h2.9v2.9h-2.9zM105.19 504.55h2.9v2.9h-2.9zM106.46 504.55h2.9v2.9h-2.9zM107.73 504.55h2.9v2.9h-2.9zM109.00 504.55h2.9v2.9h-2.9zM110.27 504.55h2.9v2.9h-2.9zM111.54 504.55h2.9v2.9h-2.9zM112.80 504.55h2.9v2.9h-2.9zM114.07 504.55h2.9v2.9h-2.9zM115.34 508.55h2.9v2.9h-2.9zM116.61 508.55h2.9v2.9h-2.9zM117.88 504.55h2.9v2.9h-2.9zM119.15 491.25h2.9v2.9h-2.9zM120.42 478.25h2.9v2.9h-2.9zM121.69 470.35h2.9v2.9h-2.9zM122.96 465.95h2.9v2.9h-2.9zM124.23 461.65h2.9v2.9h-2.9zM125.49 457.05h2.9v2.9h-2.9zM126.76 453.15h2.9v2.9h-2.9zM128.03 457.05h2.9v2.9h-2.9zM129.30 457.05h2.9v2.9h-2.9zM130.57 461.65h2.9v2.9h-2.9zM131.84 457.05h2.9v2.9h-2.9zM133.11 457.05h2.9v2.9h-2.9zM134.38 457.05h2.9v2.9h-2.9zM135.65 453.15h2.9v2.9h-2.9zM136.92 453.15h2.9v2.9h-2.9zM138.18 453.15h2.9v2.9h-2.9zM139.45 448.55h2.9v2.9h-2.9zM140.72 453.15h2.9v2.9h-2.9zM141.99 453.15h2.9v2.9h-2.9zM143.26 448.55h2.9v2.9h-2.9z" fill="#000"/><polyline points="201.50,508.50 202.76,508.50 204.01,508.50 205.27,508.50 206.53,508.50 207.78,508.50 209.04,508.50 210.30,508.50 211.56,508.50 212.81,508.50 214.07,508.50 215.33,478.90 216.58,478.90 217.84,473.40 219.10,476.30 220.35,476.30 221.61,476.30 222.87,476.30 224.13,476.30 225.38,478.90 226.64,478.90 227.90,478.90 229.15,478.90 230.41,478.90 231.67,478.90 232.93,478.90 234.18,478.90 235.44,478.90 236.70,478.90 237.95,478.90 239.21,478.90 240.47,496.70 241.72,508.50 242.98,508.50 244.24,508.50 245.50,508.50 246.75,508.50 248.01,508.50 249.27,508.50 250.52,508.50 251.78,508.50 253.04,508.50 254.29,508.50 255.55,508.50 256.81,508.50 258.06,508.50 259.32,508.50 260.58,508.50 261.84,508.50 263.09,508.50 264.35,508.50 265.61,479.30 266.86,467.80 268.12,459.50 269.38,459.50 270.63,461.90 271.89,461.90 273.15,461.90 274.41,459.50 275.66,459.50 276.92,459.50 278.18,459.50 279.43,459.50 280.69,459.50 281.95,459.50 283.20,459.50 284.46,459.50 285.72,459.50 286.98,459.50 288.23,459.50 289.49,461.90 290.75,471.00 292.00,490.80 293.26,506.00 294.52,508.50 295.77,508.50 297.03,508.50 298.29,508.50 299.55,508.50 300.80,508.50 302.06,508.50 303.32,508.50 304.57,508.50 305.83,508.50 307.09,508.50 308.34,508.50 309.60,508.50 310.86,508.50 312.12,508.50 313.37,508.50 314.63,508.50" fill="none" stroke="#9a9a9a" stroke-width="0.6"/><path d="M200.05 507.05h2.9v2.9h-2.9zM201.31 507.05h2.9v2.9h-2.9zM202.56 507.05h2.9v2.9h-2.9zM203.82 507.05h2.9v2.9h-2.9zM205.08 507.05h2.9v2.9h-2.9zM206.34 507.05h2.9v2.9h-2.9zM207.59 507.05h2.9v2.9h-2.9zM208.85 507.05h2.9v2.9h-2.9zM210.11 507.05h2.9v2.9h-2.9zM211.36 507.05h2.9v2.9h-2.9zM212.62 507.05h2.9v2.9h-2.9zM213.88 477.45h2.9v2.9h-2.9zM215.13 477.45h2.9v2.9h-2.9zM216.39 471.95h2.9v2.9h-2.9zM217.65 474.85h2.9v2.9h-2.9zM218.91 474.85h2.9v2.9h-2.9zM220.16 474.85h2.9v2.9h-2.9zM221.42 474.85h2.9v2.9h-2.9zM222.68 474.85h2.9v2.9h-2.9zM223.93 477.45h2.9v2.9h-2.9zM225.19 477.45h2.9v2.9h-2.9zM226.45 477.45h2.9v2.9h-2.9zM227.70 477.45h2.9v2.9h-2.9zM228.96 477.45h2.9v2.9h-2.9zM230.22 477.45h2.9v2.9h-2.9zM231.48 477.45h2.9v2.9h-2.9zM232.73 477.45h2.9v2.9h-2.9zM233.99 477.45h2.9v2.9h-2.9zM235.25 477.45h2.9v2.9h-2.9zM236.50 477.45h2.9v2.9h-2.9zM237.76 477.45h2.9v2.9h-2.9zM239.02 495.25h2.9v2.9h-2.9zM240.27 507.05h2.9v2.9h-2.9zM241.53 507.05h2.9v2.9h-2.9zM242.79 507.05h2.9v2.9h-2.9zM244.05 507.05h2.9v2.9h-2.9zM245.30 507.05h2.9v2.9h-2.9zM246.56 507.05h2.9v2.9h-2.9zM247.82 507.05h2.9v2.9h-2.9zM249.07 507.05h2.9v2.9h-2.9zM250.33 507.05h2.9v2.9h-2.9zM251.59 507.05h2.9v2.9h-2.9zM252.84 507.05h2.9v2.9h-2.9zM254.10 507.05h2.9v2.9h-2.9zM255.36 507.05h2.9v2.9h-2.9zM256.62 507.05h2.9v2.9h-2.9zM257.87 507.05h2.9v2.9h-2.9zM259.13 507.05h2.9v2.9h-2.9zM260.39 507.05h2.9v2.9h-2.9zM261.64 507.05h2.9v2.9h-2.9zM262.90 507.05h2.9v2.9h-2.9zM264.16 477.85h2.9v2.9h-2.9zM265.41 466.35h2.9v2.9h-2.9zM266.67 458.05h2.9v2.9h-2.9zM267.93 458.05h2.9v2.9h-2.9zM269.19 460.45h2.9v2.9h-2.9zM270.44 460.45h2.9v2.9h-2.9zM271.70 460.45h2.9v2.9h-2.9zM272.96 458.05h2.9v2.9h-2.9zM274.21 458.05h2.9v2.9h-2.9zM275.47 458.05h2.9v2.9h-2.9zM276.73 458.05h2.9v2.9h-2.9zM277.98 458.05h2.9v2.9h-2.9zM279.24 458.05h2.9v2.9h-2.9zM280.50 458.05h2.9v2.9h-2.9zM281.75 458.05h2.9v2.9h-2.9zM283.01 458.05h2.9v2.9h-2.9zM284.27 458.05h2.9v2.9h-2.9zM285.53 458.05h2.9v2.9h-2.9zM286.78 458.05h2.9v2.9h-2.9zM288.04 460.45h2.9v2.9h-2.9zM289.30 469.55h2.9v2.9h-2.9zM290.55 489.35h2.9v2.9h-2.9zM291.81 504.55h2.9v2.9h-2.9zM293.07 507.05h2.9v2.9h-2.9zM294.32 507.05h2.9v2.9h-2.9zM295.58 507.05h2.9v2.9h-2.9zM296.84 507.05h2.9v2.9h-2.9zM298.10 507.05h2.9v2.9h-2.9zM299.35 507.05h2.9v2.9h-2.9zM300.61 507.05h2.9v2.9h-2.9zM301.87 507.05h2.9v2.9h-2.9zM303.12 507.05h2.9v2.9h-2.9zM304.38 507.05h2.9v2.9h-2.9zM305.64 507.05h2.9v2.9h-2.9zM306.89 507.05h2.9v2.9h-2.9zM308.15 507.05h2.9v2.9h-2.9zM309.41 507.05h2.9v2.9h-2.9zM310.67 507.05h2.9v2.9h-2.9zM311.92 507.05h2.9v2.9h-2.9zM313.18 507.05h2.9v2.9h-2.9z" fill="#000"/><ellipse cx="63" cy="111.6" rx="12.4" ry="11.6" fill="none" stroke="#000" stroke-width="1.4" stroke-dasharray="3.8 2.4"/><line x1="49.5" y1="112.8" x2="42.2" y2="112.8" stroke="#8a8a8a" stroke-width="0.8"/><path d="M38.6 112.8L42.2 111.3L42.2 114.3z" fill="#000"/><ellipse cx="117" cy="56.4" rx="12.5" ry="11.7" fill="none" stroke="#000" stroke-width="1.4" stroke-dasharray="3.8 2.4"/><line x1="130.5" y1="56" x2="144.70000000000002" y2="56" stroke="#8a8a8a" stroke-width="0.8"/><path d="M148.3 56L144.70000000000002 54.5L144.70000000000002 57.5z" fill="#000"/><ellipse cx="226.3" cy="97.4" rx="12.4" ry="11.4" fill="none" stroke="#000" stroke-width="1.4" stroke-dasharray="3.8 2.4"/><line x1="213.8" y1="98.3" x2="206.6" y2="98.3" stroke="#8a8a8a" stroke-width="0.8"/><path d="M203 98.3L206.6 96.8L206.6 99.8z" fill="#000"/><ellipse cx="291.4" cy="49.0" rx="12.4" ry="11.4" fill="none" stroke="#000" stroke-width="1.4" stroke-dasharray="3.8 2.4"/><line x1="303.5" y1="48.3" x2="319.59999999999997" y2="48.3" stroke="#8a8a8a" stroke-width="0.8"/><path d="M323.2 48.3L319.59999999999997 46.8L319.59999999999997 49.8z" fill="#000"/><rect x="115.2" y="286.7" width="2.5" height="0.9" fill="#aaa"/><rect x="140.0" y="286.7" width="2.5" height="0.9" fill="#aaa"/></svg></body></html>
